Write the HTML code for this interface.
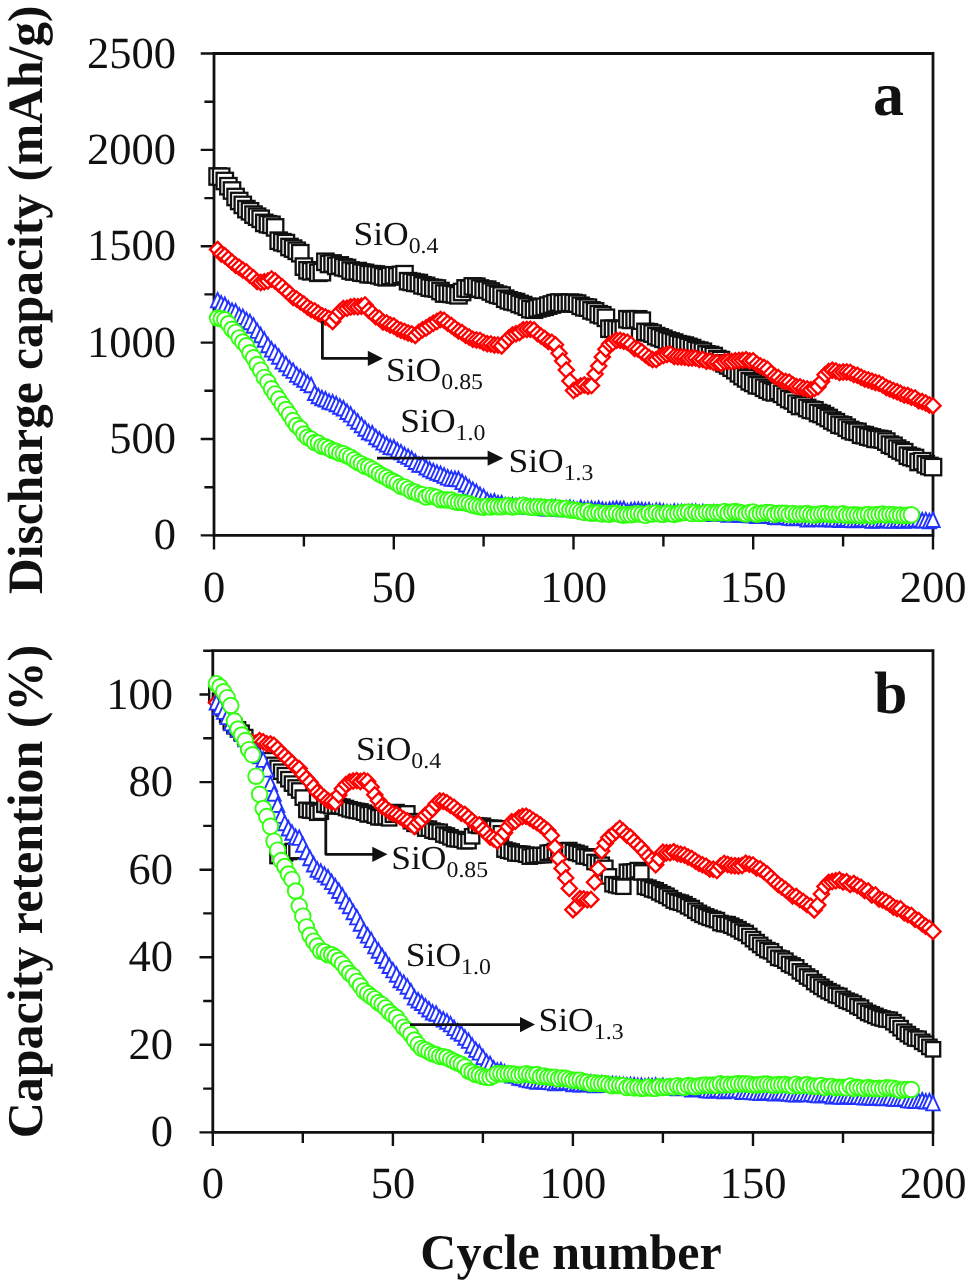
<!DOCTYPE html>
<html><head><meta charset="utf-8"><style>html,body{margin:0;padding:0;background:#fff;-webkit-font-smoothing:antialiased;}svg{display:block;filter:blur(0.6px);}</style></head>
<body><svg width="968" height="1280" viewBox="0 0 968 1280" font-family="Liberation Serif, serif" fill="#111" text-rendering="geometricPrecision">
<rect width="968" height="1280" fill="#fff"/>
<path d="M214.0 53.5H933.0V535.4H214.0Z" fill="none" stroke="#111" stroke-width="2.8"/><path d="M200.7 535.4H214.0M204.4 487.2H214.0M200.7 439.0H214.0M204.4 390.8H214.0M200.7 342.6H214.0M204.4 294.4H214.0M200.7 246.3H214.0M204.4 198.1H214.0M200.7 149.9H214.0M204.4 101.7H214.0M200.7 53.5H214.0M214.0 535.4V549.4M303.9 535.4V546.4M393.8 535.4V549.4M483.6 535.4V546.4M573.5 535.4V549.4M663.4 535.4V546.4M753.2 535.4V549.4M843.1 535.4V546.4M933.0 535.4V549.4" stroke="#111" stroke-width="2.4" fill="none"/>
<path d="M212.8 650.7H933.0V1132.4H212.8Z" fill="none" stroke="#111" stroke-width="2.8"/><path d="M199.5 1132.4H212.8M203.2 1088.6H212.8M199.5 1044.8H212.8M203.2 1001.0H212.8M199.5 957.2H212.8M203.2 913.4H212.8M199.5 869.7H212.8M203.2 825.9H212.8M199.5 782.1H212.8M203.2 738.3H212.8M199.5 694.5H212.8M203.2 650.7H212.8M212.8 1132.4V1145.9M302.8 1132.4V1142.9M392.9 1132.4V1145.9M482.9 1132.4V1142.9M572.9 1132.4V1145.9M662.9 1132.4V1142.9M753.0 1132.4V1145.9M843.0 1132.4V1142.9M933.0 1132.4V1145.9" stroke="#111" stroke-width="2.4" fill="none"/>
<g fill="#fff" stroke="#111" stroke-width="2.3"><rect x="209.4" y="168.3" width="16.4" height="16.4"/><rect x="213.0" y="168.5" width="16.4" height="16.4"/><rect x="216.6" y="172.8" width="16.4" height="16.4"/><rect x="220.2" y="178.0" width="16.4" height="16.4"/><rect x="223.8" y="182.3" width="16.4" height="16.4"/><rect x="227.4" y="188.8" width="16.4" height="16.4"/><rect x="231.0" y="192.8" width="16.4" height="16.4"/><rect x="234.6" y="196.7" width="16.4" height="16.4"/><rect x="238.2" y="200.9" width="16.4" height="16.4"/><rect x="241.8" y="203.1" width="16.4" height="16.4"/><rect x="245.3" y="206.4" width="16.4" height="16.4"/><rect x="248.9" y="208.5" width="16.4" height="16.4"/><rect x="252.5" y="210.6" width="16.4" height="16.4"/><rect x="256.1" y="214.7" width="16.4" height="16.4"/><rect x="259.7" y="216.0" width="16.4" height="16.4"/><rect x="263.3" y="216.6" width="16.4" height="16.4"/><rect x="266.9" y="219.2" width="16.4" height="16.4"/><rect x="270.5" y="232.5" width="16.4" height="16.4"/><rect x="274.1" y="234.0" width="16.4" height="16.4"/><rect x="277.7" y="234.9" width="16.4" height="16.4"/><rect x="281.3" y="238.8" width="16.4" height="16.4"/><rect x="284.9" y="240.4" width="16.4" height="16.4"/><rect x="288.5" y="242.6" width="16.4" height="16.4"/><rect x="292.1" y="245.0" width="16.4" height="16.4"/><rect x="295.7" y="258.4" width="16.4" height="16.4"/><rect x="299.3" y="262.1" width="16.4" height="16.4"/><rect x="302.9" y="263.1" width="16.4" height="16.4"/><rect x="306.5" y="262.4" width="16.4" height="16.4"/><rect x="310.1" y="264.6" width="16.4" height="16.4"/><rect x="313.7" y="264.0" width="16.4" height="16.4"/><rect x="317.2" y="253.6" width="16.4" height="16.4"/><rect x="320.8" y="255.8" width="16.4" height="16.4"/><rect x="324.4" y="255.3" width="16.4" height="16.4"/><rect x="328.0" y="257.7" width="16.4" height="16.4"/><rect x="331.6" y="257.2" width="16.4" height="16.4"/><rect x="335.2" y="259.1" width="16.4" height="16.4"/><rect x="338.8" y="259.8" width="16.4" height="16.4"/><rect x="342.4" y="262.3" width="16.4" height="16.4"/><rect x="346.0" y="263.3" width="16.4" height="16.4"/><rect x="349.6" y="262.9" width="16.4" height="16.4"/><rect x="353.2" y="264.4" width="16.4" height="16.4"/><rect x="356.8" y="264.7" width="16.4" height="16.4"/><rect x="360.4" y="266.0" width="16.4" height="16.4"/><rect x="364.0" y="266.0" width="16.4" height="16.4"/><rect x="367.6" y="266.3" width="16.4" height="16.4"/><rect x="371.2" y="267.1" width="16.4" height="16.4"/><rect x="374.8" y="268.3" width="16.4" height="16.4"/><rect x="378.4" y="269.1" width="16.4" height="16.4"/><rect x="382.0" y="267.8" width="16.4" height="16.4"/><rect x="385.6" y="267.1" width="16.4" height="16.4"/><rect x="389.1" y="268.2" width="16.4" height="16.4"/><rect x="392.7" y="266.7" width="16.4" height="16.4"/><rect x="396.3" y="266.0" width="16.4" height="16.4"/><rect x="399.9" y="273.0" width="16.4" height="16.4"/><rect x="403.5" y="273.7" width="16.4" height="16.4"/><rect x="407.1" y="274.6" width="16.4" height="16.4"/><rect x="410.7" y="274.9" width="16.4" height="16.4"/><rect x="414.3" y="277.1" width="16.4" height="16.4"/><rect x="417.9" y="277.7" width="16.4" height="16.4"/><rect x="421.5" y="279.4" width="16.4" height="16.4"/><rect x="425.1" y="279.9" width="16.4" height="16.4"/><rect x="428.7" y="280.3" width="16.4" height="16.4"/><rect x="432.3" y="282.8" width="16.4" height="16.4"/><rect x="435.9" y="285.3" width="16.4" height="16.4"/><rect x="439.5" y="285.3" width="16.4" height="16.4"/><rect x="443.1" y="285.7" width="16.4" height="16.4"/><rect x="446.7" y="286.3" width="16.4" height="16.4"/><rect x="450.3" y="287.1" width="16.4" height="16.4"/><rect x="453.9" y="283.8" width="16.4" height="16.4"/><rect x="457.4" y="280.2" width="16.4" height="16.4"/><rect x="461.0" y="280.6" width="16.4" height="16.4"/><rect x="464.6" y="278.2" width="16.4" height="16.4"/><rect x="468.2" y="278.5" width="16.4" height="16.4"/><rect x="471.8" y="280.3" width="16.4" height="16.4"/><rect x="475.4" y="281.5" width="16.4" height="16.4"/><rect x="479.0" y="281.5" width="16.4" height="16.4"/><rect x="482.6" y="283.3" width="16.4" height="16.4"/><rect x="486.2" y="285.3" width="16.4" height="16.4"/><rect x="489.8" y="286.6" width="16.4" height="16.4"/><rect x="493.4" y="287.4" width="16.4" height="16.4"/><rect x="497.0" y="290.5" width="16.4" height="16.4"/><rect x="500.6" y="292.1" width="16.4" height="16.4"/><rect x="504.2" y="293.2" width="16.4" height="16.4"/><rect x="507.8" y="293.9" width="16.4" height="16.4"/><rect x="511.4" y="295.7" width="16.4" height="16.4"/><rect x="515.0" y="296.9" width="16.4" height="16.4"/><rect x="518.6" y="298.5" width="16.4" height="16.4"/><rect x="522.2" y="300.9" width="16.4" height="16.4"/><rect x="525.8" y="301.5" width="16.4" height="16.4"/><rect x="529.3" y="300.2" width="16.4" height="16.4"/><rect x="532.9" y="299.3" width="16.4" height="16.4"/><rect x="536.5" y="298.6" width="16.4" height="16.4"/><rect x="540.1" y="297.4" width="16.4" height="16.4"/><rect x="543.7" y="296.3" width="16.4" height="16.4"/><rect x="547.3" y="295.0" width="16.4" height="16.4"/><rect x="550.9" y="294.3" width="16.4" height="16.4"/><rect x="554.5" y="295.2" width="16.4" height="16.4"/><rect x="558.1" y="294.9" width="16.4" height="16.4"/><rect x="561.7" y="294.5" width="16.4" height="16.4"/><rect x="565.3" y="294.8" width="16.4" height="16.4"/><rect x="568.9" y="295.4" width="16.4" height="16.4"/><rect x="572.5" y="297.6" width="16.4" height="16.4"/><rect x="576.1" y="299.1" width="16.4" height="16.4"/><rect x="579.7" y="299.5" width="16.4" height="16.4"/><rect x="583.3" y="302.2" width="16.4" height="16.4"/><rect x="586.9" y="303.2" width="16.4" height="16.4"/><rect x="590.5" y="306.0" width="16.4" height="16.4"/><rect x="594.1" y="307.0" width="16.4" height="16.4"/><rect x="597.7" y="309.6" width="16.4" height="16.4"/><rect x="601.2" y="320.5" width="16.4" height="16.4"/><rect x="604.8" y="320.6" width="16.4" height="16.4"/><rect x="608.4" y="321.0" width="16.4" height="16.4"/><rect x="612.0" y="321.4" width="16.4" height="16.4"/><rect x="615.6" y="321.1" width="16.4" height="16.4"/><rect x="619.2" y="311.0" width="16.4" height="16.4"/><rect x="622.8" y="311.7" width="16.4" height="16.4"/><rect x="626.4" y="311.5" width="16.4" height="16.4"/><rect x="630.0" y="311.1" width="16.4" height="16.4"/><rect x="633.6" y="312.5" width="16.4" height="16.4"/><rect x="637.2" y="323.7" width="16.4" height="16.4"/><rect x="640.8" y="324.1" width="16.4" height="16.4"/><rect x="644.4" y="325.4" width="16.4" height="16.4"/><rect x="648.0" y="327.9" width="16.4" height="16.4"/><rect x="651.6" y="329.2" width="16.4" height="16.4"/><rect x="655.2" y="330.6" width="16.4" height="16.4"/><rect x="658.8" y="332.3" width="16.4" height="16.4"/><rect x="662.4" y="333.3" width="16.4" height="16.4"/><rect x="666.0" y="334.4" width="16.4" height="16.4"/><rect x="669.6" y="336.0" width="16.4" height="16.4"/><rect x="673.1" y="336.7" width="16.4" height="16.4"/><rect x="676.7" y="337.4" width="16.4" height="16.4"/><rect x="680.3" y="338.7" width="16.4" height="16.4"/><rect x="683.9" y="339.9" width="16.4" height="16.4"/><rect x="687.5" y="341.8" width="16.4" height="16.4"/><rect x="691.1" y="342.5" width="16.4" height="16.4"/><rect x="694.7" y="343.6" width="16.4" height="16.4"/><rect x="698.3" y="346.2" width="16.4" height="16.4"/><rect x="701.9" y="346.8" width="16.4" height="16.4"/><rect x="705.5" y="347.9" width="16.4" height="16.4"/><rect x="709.1" y="350.8" width="16.4" height="16.4"/><rect x="712.7" y="351.9" width="16.4" height="16.4"/><rect x="716.3" y="355.2" width="16.4" height="16.4"/><rect x="719.9" y="357.2" width="16.4" height="16.4"/><rect x="723.5" y="359.5" width="16.4" height="16.4"/><rect x="727.1" y="362.0" width="16.4" height="16.4"/><rect x="730.7" y="365.1" width="16.4" height="16.4"/><rect x="734.3" y="367.9" width="16.4" height="16.4"/><rect x="737.9" y="370.2" width="16.4" height="16.4"/><rect x="741.5" y="373.1" width="16.4" height="16.4"/><rect x="745.0" y="374.7" width="16.4" height="16.4"/><rect x="748.6" y="377.0" width="16.4" height="16.4"/><rect x="752.2" y="377.3" width="16.4" height="16.4"/><rect x="755.8" y="379.6" width="16.4" height="16.4"/><rect x="759.4" y="381.5" width="16.4" height="16.4"/><rect x="763.0" y="383.2" width="16.4" height="16.4"/><rect x="766.6" y="384.2" width="16.4" height="16.4"/><rect x="770.2" y="382.7" width="16.4" height="16.4"/><rect x="773.8" y="385.7" width="16.4" height="16.4"/><rect x="777.4" y="388.4" width="16.4" height="16.4"/><rect x="781.0" y="390.8" width="16.4" height="16.4"/><rect x="784.6" y="392.2" width="16.4" height="16.4"/><rect x="788.2" y="395.5" width="16.4" height="16.4"/><rect x="791.8" y="397.8" width="16.4" height="16.4"/><rect x="795.4" y="397.2" width="16.4" height="16.4"/><rect x="799.0" y="399.8" width="16.4" height="16.4"/><rect x="802.6" y="401.6" width="16.4" height="16.4"/><rect x="806.2" y="402.1" width="16.4" height="16.4"/><rect x="809.8" y="404.8" width="16.4" height="16.4"/><rect x="813.4" y="405.8" width="16.4" height="16.4"/><rect x="816.9" y="407.9" width="16.4" height="16.4"/><rect x="820.5" y="409.8" width="16.4" height="16.4"/><rect x="824.1" y="412.3" width="16.4" height="16.4"/><rect x="827.7" y="414.0" width="16.4" height="16.4"/><rect x="831.3" y="416.5" width="16.4" height="16.4"/><rect x="834.9" y="417.2" width="16.4" height="16.4"/><rect x="838.5" y="419.5" width="16.4" height="16.4"/><rect x="842.1" y="421.8" width="16.4" height="16.4"/><rect x="845.7" y="423.2" width="16.4" height="16.4"/><rect x="849.3" y="423.7" width="16.4" height="16.4"/><rect x="852.9" y="426.5" width="16.4" height="16.4"/><rect x="856.5" y="427.0" width="16.4" height="16.4"/><rect x="860.1" y="428.4" width="16.4" height="16.4"/><rect x="863.7" y="429.2" width="16.4" height="16.4"/><rect x="867.3" y="430.6" width="16.4" height="16.4"/><rect x="870.9" y="430.8" width="16.4" height="16.4"/><rect x="874.5" y="431.4" width="16.4" height="16.4"/><rect x="878.1" y="433.4" width="16.4" height="16.4"/><rect x="881.7" y="436.4" width="16.4" height="16.4"/><rect x="885.3" y="437.6" width="16.4" height="16.4"/><rect x="888.9" y="440.4" width="16.4" height="16.4"/><rect x="892.4" y="442.3" width="16.4" height="16.4"/><rect x="896.0" y="444.0" width="16.4" height="16.4"/><rect x="899.6" y="447.5" width="16.4" height="16.4"/><rect x="903.2" y="448.8" width="16.4" height="16.4"/><rect x="906.8" y="449.8" width="16.4" height="16.4"/><rect x="910.4" y="453.8" width="16.4" height="16.4"/><rect x="914.0" y="453.0" width="16.4" height="16.4"/><rect x="917.6" y="456.1" width="16.4" height="16.4"/><rect x="921.2" y="457.8" width="16.4" height="16.4"/><rect x="924.8" y="458.9" width="16.4" height="16.4"/></g><g fill="#fff" stroke="#ff0000" stroke-width="2.3" stroke-linejoin="miter"><path d="M217.6 241.9L225.2 249.5L217.6 257.1L210.0 249.5Z"/><path d="M221.2 246.5L228.8 254.1L221.2 261.7L213.6 254.1Z"/><path d="M224.8 248.1L232.4 255.7L224.8 263.3L217.2 255.7Z"/><path d="M228.4 251.2L236.0 258.8L228.4 266.4L220.8 258.8Z"/><path d="M232.0 254.5L239.6 262.1L232.0 269.7L224.4 262.1Z"/><path d="M235.6 257.6L243.2 265.2L235.6 272.8L228.0 265.2Z"/><path d="M239.2 259.7L246.8 267.3L239.2 274.9L231.6 267.3Z"/><path d="M242.8 262.4L250.4 270.0L242.8 277.6L235.2 270.0Z"/><path d="M246.4 264.3L254.0 271.9L246.4 279.5L238.8 271.9Z"/><path d="M249.9 267.7L257.6 275.3L249.9 282.9L242.3 275.3Z"/><path d="M253.5 270.2L261.1 277.8L253.5 285.4L245.9 277.8Z"/><path d="M257.1 273.9L264.7 281.5L257.1 289.1L249.5 281.5Z"/><path d="M260.7 274.8L268.3 282.4L260.7 290.0L253.1 282.4Z"/><path d="M264.3 274.2L271.9 281.8L264.3 289.4L256.7 281.8Z"/><path d="M267.9 273.4L275.5 281.0L267.9 288.6L260.3 281.0Z"/><path d="M271.5 271.3L279.1 278.9L271.5 286.5L263.9 278.9Z"/><path d="M275.1 273.4L282.7 281.0L275.1 288.6L267.5 281.0Z"/><path d="M278.7 276.5L286.3 284.1L278.7 291.7L271.1 284.1Z"/><path d="M282.3 279.3L289.9 286.9L282.3 294.5L274.7 286.9Z"/><path d="M285.9 282.9L293.5 290.5L285.9 298.1L278.3 290.5Z"/><path d="M289.5 285.9L297.1 293.5L289.5 301.1L281.9 293.5Z"/><path d="M293.1 289.9L300.7 297.5L293.1 305.1L285.5 297.5Z"/><path d="M296.7 291.5L304.3 299.1L296.7 306.7L289.1 299.1Z"/><path d="M300.3 294.2L307.9 301.8L300.3 309.4L292.7 301.8Z"/><path d="M303.9 296.5L311.5 304.1L303.9 311.7L296.3 304.1Z"/><path d="M307.5 299.5L315.1 307.1L307.5 314.7L299.9 307.1Z"/><path d="M311.1 302.0L318.7 309.6L311.1 317.2L303.5 309.6Z"/><path d="M314.7 303.3L322.3 310.9L314.7 318.5L307.1 310.9Z"/><path d="M318.3 305.7L325.9 313.3L318.3 320.9L310.7 313.3Z"/><path d="M321.9 308.0L329.5 315.6L321.9 323.2L314.2 315.6Z"/><path d="M325.4 309.3L333.0 316.9L325.4 324.5L317.8 316.9Z"/><path d="M329.0 311.0L336.6 318.6L329.0 326.2L321.4 318.6Z"/><path d="M332.6 313.8L340.2 321.4L332.6 329.0L325.0 321.4Z"/><path d="M336.2 308.6L343.8 316.2L336.2 323.8L328.6 316.2Z"/><path d="M339.8 304.1L347.4 311.7L339.8 319.3L332.2 311.7Z"/><path d="M343.4 301.0L351.0 308.6L343.4 316.2L335.8 308.6Z"/><path d="M347.0 300.6L354.6 308.2L347.0 315.8L339.4 308.2Z"/><path d="M350.6 299.3L358.2 306.9L350.6 314.5L343.0 306.9Z"/><path d="M354.2 298.9L361.8 306.5L354.2 314.1L346.6 306.5Z"/><path d="M357.8 299.1L365.4 306.7L357.8 314.3L350.2 306.7Z"/><path d="M361.4 298.6L369.0 306.2L361.4 313.8L353.8 306.2Z"/><path d="M365.0 297.3L372.6 304.9L365.0 312.5L357.4 304.9Z"/><path d="M368.6 302.6L376.2 310.2L368.6 317.8L361.0 310.2Z"/><path d="M372.2 305.3L379.8 312.9L372.2 320.5L364.6 312.9Z"/><path d="M375.8 309.2L383.4 316.8L375.8 324.4L368.2 316.8Z"/><path d="M379.4 310.8L387.0 318.4L379.4 326.0L371.8 318.4Z"/><path d="M383.0 314.5L390.6 322.1L383.0 329.7L375.4 322.1Z"/><path d="M386.6 315.3L394.2 322.9L386.6 330.5L379.0 322.9Z"/><path d="M390.2 317.4L397.8 325.0L390.2 332.6L382.6 325.0Z"/><path d="M393.8 318.4L401.4 326.0L393.8 333.6L386.1 326.0Z"/><path d="M397.3 321.0L404.9 328.6L397.3 336.2L389.7 328.6Z"/><path d="M400.9 322.6L408.5 330.2L400.9 337.8L393.3 330.2Z"/><path d="M404.5 323.8L412.1 331.4L404.5 339.0L396.9 331.4Z"/><path d="M408.1 325.4L415.7 333.0L408.1 340.6L400.5 333.0Z"/><path d="M411.7 326.3L419.3 333.9L411.7 341.5L404.1 333.9Z"/><path d="M415.3 327.8L422.9 335.4L415.3 343.0L407.7 335.4Z"/><path d="M418.9 324.7L426.5 332.3L418.9 339.9L411.3 332.3Z"/><path d="M422.5 322.1L430.1 329.7L422.5 337.3L414.9 329.7Z"/><path d="M426.1 320.3L433.7 327.9L426.1 335.5L418.5 327.9Z"/><path d="M429.7 318.0L437.3 325.6L429.7 333.2L422.1 325.6Z"/><path d="M433.3 315.7L440.9 323.3L433.3 330.9L425.7 323.3Z"/><path d="M436.9 313.9L444.5 321.5L436.9 329.1L429.3 321.5Z"/><path d="M440.5 311.9L448.1 319.5L440.5 327.1L432.9 319.5Z"/><path d="M444.1 312.7L451.7 320.3L444.1 327.9L436.5 320.3Z"/><path d="M447.7 315.6L455.3 323.2L447.7 330.8L440.1 323.2Z"/><path d="M451.3 317.9L458.9 325.5L451.3 333.1L443.7 325.5Z"/><path d="M454.9 320.7L462.5 328.3L454.9 335.9L447.3 328.3Z"/><path d="M458.5 323.4L466.1 331.0L458.5 338.6L450.9 331.0Z"/><path d="M462.1 325.0L469.7 332.6L462.1 340.2L454.5 332.6Z"/><path d="M465.6 327.7L473.2 335.3L465.6 342.9L458.0 335.3Z"/><path d="M469.2 329.5L476.8 337.1L469.2 344.7L461.6 337.1Z"/><path d="M472.8 331.7L480.4 339.3L472.8 346.9L465.2 339.3Z"/><path d="M476.4 332.3L484.0 339.9L476.4 347.5L468.8 339.9Z"/><path d="M480.0 332.8L487.6 340.4L480.0 348.0L472.4 340.4Z"/><path d="M483.6 334.8L491.2 342.4L483.6 350.0L476.0 342.4Z"/><path d="M487.2 336.1L494.8 343.7L487.2 351.3L479.6 343.7Z"/><path d="M490.8 336.3L498.4 343.9L490.8 351.5L483.2 343.9Z"/><path d="M494.4 337.4L502.0 345.0L494.4 352.6L486.8 345.0Z"/><path d="M498.0 337.5L505.6 345.1L498.0 352.7L490.4 345.1Z"/><path d="M501.6 338.4L509.2 346.0L501.6 353.6L494.0 346.0Z"/><path d="M505.2 334.4L512.8 342.0L505.2 349.6L497.6 342.0Z"/><path d="M508.8 330.4L516.4 338.0L508.8 345.6L501.2 338.0Z"/><path d="M512.4 327.4L520.0 335.0L512.4 342.6L504.8 335.0Z"/><path d="M516.0 326.2L523.6 333.8L516.0 341.4L508.4 333.8Z"/><path d="M519.6 324.8L527.2 332.4L519.6 340.0L512.0 332.4Z"/><path d="M523.2 322.2L530.8 329.8L523.2 337.4L515.6 329.8Z"/><path d="M526.8 321.8L534.4 329.4L526.8 337.0L519.2 329.4Z"/><path d="M530.4 321.7L538.0 329.3L530.4 336.9L522.8 329.3Z"/><path d="M534.0 322.4L541.6 330.0L534.0 337.6L526.4 330.0Z"/><path d="M537.5 325.9L545.1 333.5L537.5 341.1L529.9 333.5Z"/><path d="M541.1 328.5L548.7 336.1L541.1 343.7L533.5 336.1Z"/><path d="M544.7 330.9L552.3 338.5L544.7 346.1L537.1 338.5Z"/><path d="M548.3 333.9L555.9 341.5L548.3 349.1L540.7 341.5Z"/><path d="M551.9 334.7L559.5 342.3L551.9 349.9L544.3 342.3Z"/><path d="M555.5 337.2L563.1 344.8L555.5 352.4L547.9 344.8Z"/><path d="M559.1 345.6L566.7 353.2L559.1 360.8L551.5 353.2Z"/><path d="M562.7 353.5L570.3 361.1L562.7 368.7L555.1 361.1Z"/><path d="M566.3 362.4L573.9 370.0L566.3 377.6L558.7 370.0Z"/><path d="M569.9 373.4L577.5 381.0L569.9 388.6L562.3 381.0Z"/><path d="M573.5 383.0L581.1 390.6L573.5 398.2L565.9 390.6Z"/><path d="M577.1 380.6L584.7 388.2L577.1 395.8L569.5 388.2Z"/><path d="M580.7 378.3L588.3 385.9L580.7 393.5L573.1 385.9Z"/><path d="M584.3 377.4L591.9 385.0L584.3 392.6L576.7 385.0Z"/><path d="M587.9 378.6L595.5 386.2L587.9 393.8L580.3 386.2Z"/><path d="M591.5 378.0L599.1 385.6L591.5 393.2L583.9 385.6Z"/><path d="M595.1 366.4L602.7 374.0L595.1 381.6L587.5 374.0Z"/><path d="M598.7 358.4L606.3 366.0L598.7 373.6L591.1 366.0Z"/><path d="M602.3 349.3L609.9 356.9L602.3 364.5L594.7 356.9Z"/><path d="M605.9 341.7L613.5 349.3L605.9 356.9L598.3 349.3Z"/><path d="M609.5 336.6L617.1 344.2L609.5 351.8L601.9 344.2Z"/><path d="M613.0 335.0L620.6 342.6L613.0 350.2L605.4 342.6Z"/><path d="M616.6 332.7L624.2 340.3L616.6 347.9L609.0 340.3Z"/><path d="M620.2 332.7L627.8 340.3L620.2 347.9L612.6 340.3Z"/><path d="M623.8 333.7L631.4 341.3L623.8 348.9L616.2 341.3Z"/><path d="M627.4 334.6L635.0 342.2L627.4 349.8L619.8 342.2Z"/><path d="M631.0 336.8L638.6 344.4L631.0 352.0L623.4 344.4Z"/><path d="M634.6 340.8L642.2 348.4L634.6 356.0L627.0 348.4Z"/><path d="M638.2 341.7L645.8 349.3L638.2 356.9L630.6 349.3Z"/><path d="M641.8 344.1L649.4 351.7L641.8 359.3L634.2 351.7Z"/><path d="M645.4 347.2L653.0 354.8L645.4 362.4L637.8 354.8Z"/><path d="M649.0 349.8L656.6 357.4L649.0 365.0L641.4 357.4Z"/><path d="M652.6 352.0L660.2 359.6L652.6 367.2L645.0 359.6Z"/><path d="M656.2 351.9L663.8 359.5L656.2 367.1L648.6 359.5Z"/><path d="M659.8 349.3L667.4 356.9L659.8 364.5L652.2 356.9Z"/><path d="M663.4 347.8L671.0 355.4L663.4 363.0L655.8 355.4Z"/><path d="M667.0 346.8L674.6 354.4L667.0 362.0L659.4 354.4Z"/><path d="M670.6 346.5L678.2 354.1L670.6 361.7L663.0 354.1Z"/><path d="M674.2 348.8L681.8 356.4L674.2 364.0L666.6 356.4Z"/><path d="M677.8 349.2L685.4 356.8L677.8 364.4L670.2 356.8Z"/><path d="M681.4 349.3L689.0 356.9L681.4 364.5L673.8 356.9Z"/><path d="M684.9 349.7L692.5 357.3L684.9 364.9L677.3 357.3Z"/><path d="M688.5 350.5L696.1 358.1L688.5 365.7L680.9 358.1Z"/><path d="M692.1 350.4L699.7 358.0L692.1 365.6L684.5 358.0Z"/><path d="M695.7 350.5L703.3 358.1L695.7 365.7L688.1 358.1Z"/><path d="M699.3 352.0L706.9 359.6L699.3 367.2L691.7 359.6Z"/><path d="M702.9 351.8L710.5 359.4L702.9 367.0L695.3 359.4Z"/><path d="M706.5 353.6L714.1 361.2L706.5 368.8L698.9 361.2Z"/><path d="M710.1 353.3L717.7 360.9L710.1 368.5L702.5 360.9Z"/><path d="M713.7 354.9L721.3 362.5L713.7 370.1L706.1 362.5Z"/><path d="M717.3 354.9L724.9 362.5L717.3 370.1L709.7 362.5Z"/><path d="M720.9 355.9L728.5 363.5L720.9 371.1L713.3 363.5Z"/><path d="M724.5 354.1L732.1 361.7L724.5 369.3L716.9 361.7Z"/><path d="M728.1 353.7L735.7 361.3L728.1 368.9L720.5 361.3Z"/><path d="M731.7 354.0L739.3 361.6L731.7 369.2L724.1 361.6Z"/><path d="M735.3 353.2L742.9 360.8L735.3 368.4L727.7 360.8Z"/><path d="M738.9 352.8L746.5 360.4L738.9 368.0L731.3 360.4Z"/><path d="M742.5 352.7L750.1 360.3L742.5 367.9L734.9 360.3Z"/><path d="M746.1 352.1L753.7 359.7L746.1 367.3L738.5 359.7Z"/><path d="M749.7 353.3L757.3 360.9L749.7 368.5L742.1 360.9Z"/><path d="M753.2 353.2L760.9 360.8L753.2 368.4L745.6 360.8Z"/><path d="M756.8 356.3L764.4 363.9L756.8 371.5L749.2 363.9Z"/><path d="M760.4 358.3L768.0 365.9L760.4 373.5L752.8 365.9Z"/><path d="M764.0 359.8L771.6 367.4L764.0 375.0L756.4 367.4Z"/><path d="M767.6 361.7L775.2 369.3L767.6 376.9L760.0 369.3Z"/><path d="M771.2 365.7L778.8 373.3L771.2 380.9L763.6 373.3Z"/><path d="M774.8 368.6L782.4 376.2L774.8 383.8L767.2 376.2Z"/><path d="M778.4 370.0L786.0 377.6L778.4 385.2L770.8 377.6Z"/><path d="M782.0 373.0L789.6 380.6L782.0 388.2L774.4 380.6Z"/><path d="M785.6 373.9L793.2 381.5L785.6 389.1L778.0 381.5Z"/><path d="M789.2 374.6L796.8 382.2L789.2 389.8L781.6 382.2Z"/><path d="M792.8 377.1L800.4 384.7L792.8 392.3L785.2 384.7Z"/><path d="M796.4 379.0L804.0 386.6L796.4 394.2L788.8 386.6Z"/><path d="M800.0 379.2L807.6 386.8L800.0 394.4L792.4 386.8Z"/><path d="M803.6 380.7L811.2 388.3L803.6 395.9L796.0 388.3Z"/><path d="M807.2 381.3L814.8 388.9L807.2 396.5L799.6 388.9Z"/><path d="M810.8 382.1L818.4 389.7L810.8 397.3L803.2 389.7Z"/><path d="M814.4 380.8L822.0 388.4L814.4 396.0L806.8 388.4Z"/><path d="M818.0 379.2L825.6 386.8L818.0 394.4L810.4 386.8Z"/><path d="M821.6 373.9L829.2 381.5L821.6 389.1L814.0 381.5Z"/><path d="M825.1 367.2L832.8 374.8L825.1 382.4L817.5 374.8Z"/><path d="M828.7 364.0L836.3 371.6L828.7 379.2L821.1 371.6Z"/><path d="M832.3 362.6L839.9 370.2L832.3 377.8L824.7 370.2Z"/><path d="M835.9 363.5L843.5 371.1L835.9 378.7L828.3 371.1Z"/><path d="M839.5 364.8L847.1 372.4L839.5 380.0L831.9 372.4Z"/><path d="M843.1 364.3L850.7 371.9L843.1 379.5L835.5 371.9Z"/><path d="M846.7 364.3L854.3 371.9L846.7 379.5L839.1 371.9Z"/><path d="M850.3 364.8L857.9 372.4L850.3 380.0L842.7 372.4Z"/><path d="M853.9 367.0L861.5 374.6L853.9 382.2L846.3 374.6Z"/><path d="M857.5 367.7L865.1 375.3L857.5 382.9L849.9 375.3Z"/><path d="M861.1 369.6L868.7 377.2L861.1 384.8L853.5 377.2Z"/><path d="M864.7 371.3L872.3 378.9L864.7 386.5L857.1 378.9Z"/><path d="M868.3 372.3L875.9 379.9L868.3 387.5L860.7 379.9Z"/><path d="M871.9 373.6L879.5 381.2L871.9 388.8L864.3 381.2Z"/><path d="M875.5 374.8L883.1 382.4L875.5 390.0L867.9 382.4Z"/><path d="M879.1 375.7L886.7 383.3L879.1 390.9L871.5 383.3Z"/><path d="M882.7 377.5L890.3 385.1L882.7 392.7L875.1 385.1Z"/><path d="M886.3 379.9L893.9 387.5L886.3 395.1L878.7 387.5Z"/><path d="M889.9 381.3L897.5 388.9L889.9 396.5L882.3 388.9Z"/><path d="M893.5 383.0L901.1 390.6L893.5 398.2L885.9 390.6Z"/><path d="M897.1 384.1L904.7 391.7L897.1 399.3L889.5 391.7Z"/><path d="M900.6 385.7L908.2 393.3L900.6 400.9L893.0 393.3Z"/><path d="M904.2 387.5L911.8 395.1L904.2 402.7L896.6 395.1Z"/><path d="M907.8 387.9L915.4 395.5L907.8 403.1L900.2 395.5Z"/><path d="M911.4 389.7L919.0 397.3L911.4 404.9L903.8 397.3Z"/><path d="M915.0 390.3L922.6 397.9L915.0 405.5L907.4 397.9Z"/><path d="M918.6 393.2L926.2 400.8L918.6 408.4L911.0 400.8Z"/><path d="M922.2 394.0L929.8 401.6L922.2 409.2L914.6 401.6Z"/><path d="M925.8 395.5L933.4 403.1L925.8 410.7L918.2 403.1Z"/><path d="M929.4 397.3L937.0 404.9L929.4 412.5L921.8 404.9Z"/><path d="M933.0 398.2L940.6 405.8L933.0 413.4L925.4 405.8Z"/></g><g fill="#fff" stroke="#2233ff" stroke-width="1.9"><path d="M217.6 292.9L224.3 307.4L210.9 307.4Z"/><path d="M221.2 296.1L227.9 310.6L214.5 310.6Z"/><path d="M224.8 297.5L231.5 312.0L218.1 312.0Z"/><path d="M228.4 301.3L235.1 315.8L221.7 315.8Z"/><path d="M232.0 303.4L238.7 317.9L225.3 317.9Z"/><path d="M235.6 304.2L242.3 318.7L228.9 318.7Z"/><path d="M239.2 308.2L245.9 322.7L232.5 322.7Z"/><path d="M242.8 309.4L249.5 323.9L236.1 323.9Z"/><path d="M246.4 312.7L253.1 327.2L239.7 327.2Z"/><path d="M249.9 314.7L256.6 329.2L243.2 329.2Z"/><path d="M253.5 318.2L260.2 332.7L246.8 332.7Z"/><path d="M257.1 323.4L263.8 337.9L250.4 337.9Z"/><path d="M260.7 327.8L267.4 342.3L254.0 342.3Z"/><path d="M264.3 332.3L271.0 346.8L257.6 346.8Z"/><path d="M267.9 337.7L274.6 352.2L261.2 352.2Z"/><path d="M271.5 342.1L278.2 356.6L264.8 356.6Z"/><path d="M275.1 345.2L281.8 359.7L268.4 359.7Z"/><path d="M278.7 349.2L285.4 363.7L272.0 363.7Z"/><path d="M282.3 354.1L289.0 368.6L275.6 368.6Z"/><path d="M285.9 356.7L292.6 371.2L279.2 371.2Z"/><path d="M289.5 360.9L296.2 375.4L282.8 375.4Z"/><path d="M293.1 363.4L299.8 377.9L286.4 377.9Z"/><path d="M296.7 367.4L303.4 381.9L290.0 381.9Z"/><path d="M300.3 369.7L307.0 384.2L293.6 384.2Z"/><path d="M303.9 372.3L310.6 386.8L297.2 386.8Z"/><path d="M307.5 375.5L314.2 390.0L300.8 390.0Z"/><path d="M311.1 377.7L317.8 392.2L304.4 392.2Z"/><path d="M314.7 385.5L321.4 400.0L308.0 400.0Z"/><path d="M318.3 388.7L325.0 403.2L311.6 403.2Z"/><path d="M321.9 390.8L328.6 405.3L315.2 405.3Z"/><path d="M325.4 392.0L332.1 406.5L318.7 406.5Z"/><path d="M329.0 394.3L335.7 408.8L322.3 408.8Z"/><path d="M332.6 395.1L339.3 409.6L325.9 409.6Z"/><path d="M336.2 396.8L342.9 411.3L329.5 411.3Z"/><path d="M339.8 399.2L346.5 413.7L333.1 413.7Z"/><path d="M343.4 401.0L350.1 415.5L336.7 415.5Z"/><path d="M347.0 404.5L353.7 419.0L340.3 419.0Z"/><path d="M350.6 407.1L357.3 421.6L343.9 421.6Z"/><path d="M354.2 410.9L360.9 425.4L347.5 425.4Z"/><path d="M357.8 414.3L364.5 428.8L351.1 428.8Z"/><path d="M361.4 417.7L368.1 432.2L354.7 432.2Z"/><path d="M365.0 421.2L371.7 435.7L358.3 435.7Z"/><path d="M368.6 424.8L375.3 439.3L361.9 439.3Z"/><path d="M372.2 426.0L378.9 440.5L365.5 440.5Z"/><path d="M375.8 429.7L382.5 444.2L369.1 444.2Z"/><path d="M379.4 432.0L386.1 446.5L372.7 446.5Z"/><path d="M383.0 435.1L389.7 449.6L376.3 449.6Z"/><path d="M386.6 437.1L393.3 451.6L379.9 451.6Z"/><path d="M390.2 439.6L396.9 454.1L383.5 454.1Z"/><path d="M393.8 440.0L400.4 454.5L387.1 454.5Z"/><path d="M397.3 443.0L404.0 457.5L390.6 457.5Z"/><path d="M400.9 444.9L407.6 459.4L394.2 459.4Z"/><path d="M404.5 447.6L411.2 462.1L397.8 462.1Z"/><path d="M408.1 449.4L414.8 463.9L401.4 463.9Z"/><path d="M411.7 451.6L418.4 466.1L405.0 466.1Z"/><path d="M415.3 454.5L422.0 469.0L408.6 469.0Z"/><path d="M418.9 457.4L425.6 471.9L412.2 471.9Z"/><path d="M422.5 457.2L429.2 471.7L415.8 471.7Z"/><path d="M426.1 460.0L432.8 474.5L419.4 474.5Z"/><path d="M429.7 462.1L436.4 476.6L423.0 476.6Z"/><path d="M433.3 463.8L440.0 478.3L426.6 478.3Z"/><path d="M436.9 465.3L443.6 479.8L430.2 479.8Z"/><path d="M440.5 466.5L447.2 481.0L433.8 481.0Z"/><path d="M444.1 468.2L450.8 482.7L437.4 482.7Z"/><path d="M447.7 470.1L454.4 484.6L441.0 484.6Z"/><path d="M451.3 471.2L458.0 485.7L444.6 485.7Z"/><path d="M454.9 471.5L461.6 486.0L448.2 486.0Z"/><path d="M458.5 471.8L465.2 486.3L451.8 486.3Z"/><path d="M462.1 474.6L468.8 489.1L455.4 489.1Z"/><path d="M465.6 477.0L472.3 491.5L458.9 491.5Z"/><path d="M469.2 480.1L475.9 494.6L462.5 494.6Z"/><path d="M472.8 482.4L479.5 496.9L466.1 496.9Z"/><path d="M476.4 484.6L483.1 499.1L469.7 499.1Z"/><path d="M480.0 487.6L486.7 502.1L473.3 502.1Z"/><path d="M483.6 489.4L490.3 503.9L476.9 503.9Z"/><path d="M487.2 493.1L493.9 507.6L480.5 507.6Z"/><path d="M490.8 494.6L497.5 509.1L484.1 509.1Z"/><path d="M494.4 494.1L501.1 508.6L487.7 508.6Z"/><path d="M498.0 495.9L504.7 510.4L491.3 510.4Z"/><path d="M501.6 496.0L508.3 510.5L494.9 510.5Z"/><path d="M505.2 498.0L511.9 512.5L498.5 512.5Z"/><path d="M508.8 498.2L515.5 512.7L502.1 512.7Z"/><path d="M512.4 497.9L519.1 512.4L505.7 512.4Z"/><path d="M516.0 499.0L522.7 513.5L509.3 513.5Z"/><path d="M519.6 498.4L526.3 512.9L512.9 512.9Z"/><path d="M523.2 498.6L529.9 513.1L516.5 513.1Z"/><path d="M526.8 498.9L533.5 513.4L520.1 513.4Z"/><path d="M530.4 499.4L537.1 513.9L523.7 513.9Z"/><path d="M534.0 499.5L540.7 514.0L527.3 514.0Z"/><path d="M537.5 499.9L544.2 514.4L530.8 514.4Z"/><path d="M541.1 499.7L547.8 514.2L534.4 514.2Z"/><path d="M544.7 500.7L551.4 515.2L538.0 515.2Z"/><path d="M548.3 501.0L555.0 515.5L541.6 515.5Z"/><path d="M551.9 500.3L558.6 514.8L545.2 514.8Z"/><path d="M555.5 499.9L562.2 514.4L548.8 514.4Z"/><path d="M559.1 501.4L565.8 515.9L552.4 515.9Z"/><path d="M562.7 501.8L569.4 516.3L556.0 516.3Z"/><path d="M566.3 501.1L573.0 515.6L559.6 515.6Z"/><path d="M569.9 500.5L576.6 515.0L563.2 515.0Z"/><path d="M573.5 501.5L580.2 516.0L566.8 516.0Z"/><path d="M577.1 502.4L583.8 516.9L570.4 516.9Z"/><path d="M580.7 500.5L587.4 515.0L574.0 515.0Z"/><path d="M584.3 502.0L591.0 516.5L577.6 516.5Z"/><path d="M587.9 501.6L594.6 516.1L581.2 516.1Z"/><path d="M591.5 501.4L598.2 515.9L584.8 515.9Z"/><path d="M595.1 502.3L601.8 516.8L588.4 516.8Z"/><path d="M598.7 501.3L605.4 515.8L592.0 515.8Z"/><path d="M602.3 502.4L609.0 516.9L595.6 516.9Z"/><path d="M605.9 503.1L612.6 517.6L599.2 517.6Z"/><path d="M609.5 502.5L616.2 517.0L602.8 517.0Z"/><path d="M613.0 502.0L619.7 516.5L606.3 516.5Z"/><path d="M616.6 501.5L623.3 516.0L609.9 516.0Z"/><path d="M620.2 501.9L626.9 516.4L613.5 516.4Z"/><path d="M623.8 501.7L630.5 516.2L617.1 516.2Z"/><path d="M627.4 503.9L634.1 518.4L620.7 518.4Z"/><path d="M631.0 502.9L637.7 517.4L624.3 517.4Z"/><path d="M634.6 502.6L641.3 517.1L627.9 517.1Z"/><path d="M638.2 502.5L644.9 517.0L631.5 517.0Z"/><path d="M641.8 502.8L648.5 517.3L635.1 517.3Z"/><path d="M645.4 503.3L652.1 517.8L638.7 517.8Z"/><path d="M649.0 502.9L655.7 517.4L642.3 517.4Z"/><path d="M652.6 504.8L659.3 519.3L645.9 519.3Z"/><path d="M656.2 503.5L662.9 518.0L649.5 518.0Z"/><path d="M659.8 503.6L666.5 518.1L653.1 518.1Z"/><path d="M663.4 504.3L670.1 518.8L656.7 518.8Z"/><path d="M667.0 505.1L673.7 519.6L660.3 519.6Z"/><path d="M670.6 505.2L677.3 519.7L663.9 519.7Z"/><path d="M674.2 504.2L680.9 518.7L667.5 518.7Z"/><path d="M677.8 504.8L684.5 519.3L671.1 519.3Z"/><path d="M681.4 504.8L688.1 519.3L674.6 519.3Z"/><path d="M684.9 505.2L691.6 519.7L678.2 519.7Z"/><path d="M688.5 505.2L695.2 519.7L681.8 519.7Z"/><path d="M692.1 504.6L698.8 519.1L685.4 519.1Z"/><path d="M695.7 504.5L702.4 519.0L689.0 519.0Z"/><path d="M699.3 505.5L706.0 520.0L692.6 520.0Z"/><path d="M702.9 504.8L709.6 519.3L696.2 519.3Z"/><path d="M706.5 506.5L713.2 521.0L699.8 521.0Z"/><path d="M710.1 505.9L716.8 520.4L703.4 520.4Z"/><path d="M713.7 505.3L720.4 519.8L707.0 519.8Z"/><path d="M717.3 505.9L724.0 520.4L710.6 520.4Z"/><path d="M720.9 505.9L727.6 520.4L714.2 520.4Z"/><path d="M724.5 506.3L731.2 520.8L717.8 520.8Z"/><path d="M728.1 507.2L734.8 521.7L721.4 521.7Z"/><path d="M731.7 505.9L738.4 520.4L725.0 520.4Z"/><path d="M735.3 505.8L742.0 520.3L728.6 520.3Z"/><path d="M738.9 507.3L745.6 521.8L732.2 521.8Z"/><path d="M742.5 507.2L749.2 521.7L735.8 521.7Z"/><path d="M746.1 507.6L752.8 522.1L739.4 522.1Z"/><path d="M749.7 507.9L756.4 522.4L743.0 522.4Z"/><path d="M753.2 507.8L760.0 522.3L746.5 522.3Z"/><path d="M756.8 508.5L763.5 523.0L750.1 523.0Z"/><path d="M760.4 507.7L767.1 522.2L753.7 522.2Z"/><path d="M764.0 508.5L770.7 523.0L757.3 523.0Z"/><path d="M767.6 508.2L774.3 522.7L760.9 522.7Z"/><path d="M771.2 508.2L777.9 522.7L764.5 522.7Z"/><path d="M774.8 509.5L781.5 524.0L768.1 524.0Z"/><path d="M778.4 509.7L785.1 524.2L771.7 524.2Z"/><path d="M782.0 508.4L788.7 522.9L775.3 522.9Z"/><path d="M785.6 509.1L792.3 523.6L778.9 523.6Z"/><path d="M789.2 510.2L795.9 524.7L782.5 524.7Z"/><path d="M792.8 510.9L799.5 525.4L786.1 525.4Z"/><path d="M796.4 510.1L803.1 524.6L789.7 524.6Z"/><path d="M800.0 510.6L806.7 525.1L793.3 525.1Z"/><path d="M803.6 509.9L810.3 524.4L796.9 524.4Z"/><path d="M807.2 512.1L813.9 526.6L800.5 526.6Z"/><path d="M810.8 511.3L817.5 525.8L804.1 525.8Z"/><path d="M814.4 511.6L821.1 526.1L807.7 526.1Z"/><path d="M818.0 511.5L824.7 526.0L811.3 526.0Z"/><path d="M821.6 511.8L828.3 526.3L814.9 526.3Z"/><path d="M825.1 511.7L831.9 526.2L818.4 526.2Z"/><path d="M828.7 511.2L835.4 525.7L822.0 525.7Z"/><path d="M832.3 512.0L839.0 526.5L825.6 526.5Z"/><path d="M835.9 511.6L842.6 526.1L829.2 526.1Z"/><path d="M839.5 512.5L846.2 527.0L832.8 527.0Z"/><path d="M843.1 511.3L849.8 525.8L836.4 525.8Z"/><path d="M846.7 511.5L853.4 526.0L840.0 526.0Z"/><path d="M850.3 512.4L857.0 526.9L843.6 526.9Z"/><path d="M853.9 512.8L860.6 527.3L847.2 527.3Z"/><path d="M857.5 512.2L864.2 526.7L850.8 526.7Z"/><path d="M861.1 511.8L867.8 526.3L854.4 526.3Z"/><path d="M864.7 512.2L871.4 526.7L858.0 526.7Z"/><path d="M868.3 512.0L875.0 526.5L861.6 526.5Z"/><path d="M871.9 513.4L878.6 527.9L865.2 527.9Z"/><path d="M875.5 512.8L882.2 527.3L868.8 527.3Z"/><path d="M879.1 513.1L885.8 527.6L872.4 527.6Z"/><path d="M882.7 512.5L889.4 527.0L876.0 527.0Z"/><path d="M886.3 512.0L893.0 526.5L879.6 526.5Z"/><path d="M889.9 513.1L896.6 527.6L883.2 527.6Z"/><path d="M893.5 513.4L900.2 527.9L886.8 527.9Z"/><path d="M897.1 512.8L903.8 527.3L890.4 527.3Z"/><path d="M900.6 512.5L907.3 527.0L893.9 527.0Z"/><path d="M904.2 513.2L910.9 527.7L897.5 527.7Z"/><path d="M907.8 512.3L914.5 526.8L901.1 526.8Z"/><path d="M911.4 513.0L918.1 527.5L904.7 527.5Z"/><path d="M915.0 512.1L921.7 526.6L908.3 526.6Z"/><path d="M918.6 512.0L925.3 526.5L911.9 526.5Z"/><path d="M922.2 513.0L928.9 527.5L915.5 527.5Z"/><path d="M925.8 512.9L932.5 527.4L919.1 527.4Z"/><path d="M929.4 513.8L936.1 528.3L922.7 528.3Z"/><path d="M933.0 512.5L939.7 527.0L926.3 527.0Z"/></g><g fill="#fff" stroke="#33ff11" stroke-width="1.9"><circle cx="217.6" cy="318.0" r="7.8"/><circle cx="221.2" cy="318.8" r="7.8"/><circle cx="224.8" cy="319.8" r="7.8"/><circle cx="228.4" cy="323.8" r="7.8"/><circle cx="232.0" cy="329.3" r="7.8"/><circle cx="235.6" cy="332.4" r="7.8"/><circle cx="239.2" cy="337.9" r="7.8"/><circle cx="242.8" cy="342.1" r="7.8"/><circle cx="246.4" cy="345.8" r="7.8"/><circle cx="249.9" cy="352.8" r="7.8"/><circle cx="253.5" cy="357.8" r="7.8"/><circle cx="257.1" cy="364.5" r="7.8"/><circle cx="260.7" cy="370.2" r="7.8"/><circle cx="264.3" cy="377.4" r="7.8"/><circle cx="267.9" cy="382.1" r="7.8"/><circle cx="271.5" cy="388.8" r="7.8"/><circle cx="275.1" cy="393.9" r="7.8"/><circle cx="278.7" cy="399.1" r="7.8"/><circle cx="282.3" cy="404.6" r="7.8"/><circle cx="285.9" cy="409.5" r="7.8"/><circle cx="289.5" cy="414.7" r="7.8"/><circle cx="293.1" cy="420.6" r="7.8"/><circle cx="296.7" cy="425.5" r="7.8"/><circle cx="300.3" cy="428.5" r="7.8"/><circle cx="303.9" cy="434.0" r="7.8"/><circle cx="307.5" cy="437.3" r="7.8"/><circle cx="311.1" cy="439.1" r="7.8"/><circle cx="314.7" cy="442.5" r="7.8"/><circle cx="318.3" cy="443.1" r="7.8"/><circle cx="321.9" cy="446.2" r="7.8"/><circle cx="325.4" cy="446.7" r="7.8"/><circle cx="329.0" cy="448.3" r="7.8"/><circle cx="332.6" cy="450.6" r="7.8"/><circle cx="336.2" cy="451.3" r="7.8"/><circle cx="339.8" cy="453.2" r="7.8"/><circle cx="343.4" cy="453.7" r="7.8"/><circle cx="347.0" cy="455.7" r="7.8"/><circle cx="350.6" cy="457.2" r="7.8"/><circle cx="354.2" cy="459.8" r="7.8"/><circle cx="357.8" cy="462.4" r="7.8"/><circle cx="361.4" cy="463.9" r="7.8"/><circle cx="365.0" cy="466.3" r="7.8"/><circle cx="368.6" cy="467.1" r="7.8"/><circle cx="372.2" cy="469.2" r="7.8"/><circle cx="375.8" cy="471.4" r="7.8"/><circle cx="379.4" cy="474.0" r="7.8"/><circle cx="383.0" cy="475.9" r="7.8"/><circle cx="386.6" cy="477.6" r="7.8"/><circle cx="390.2" cy="480.0" r="7.8"/><circle cx="393.8" cy="481.5" r="7.8"/><circle cx="397.3" cy="483.6" r="7.8"/><circle cx="400.9" cy="486.4" r="7.8"/><circle cx="404.5" cy="486.9" r="7.8"/><circle cx="408.1" cy="488.9" r="7.8"/><circle cx="411.7" cy="491.4" r="7.8"/><circle cx="415.3" cy="492.1" r="7.8"/><circle cx="418.9" cy="494.1" r="7.8"/><circle cx="422.5" cy="494.7" r="7.8"/><circle cx="426.1" cy="497.0" r="7.8"/><circle cx="429.7" cy="495.4" r="7.8"/><circle cx="433.3" cy="496.6" r="7.8"/><circle cx="436.9" cy="497.4" r="7.8"/><circle cx="440.5" cy="499.7" r="7.8"/><circle cx="444.1" cy="499.7" r="7.8"/><circle cx="447.7" cy="500.0" r="7.8"/><circle cx="451.3" cy="500.1" r="7.8"/><circle cx="454.9" cy="501.8" r="7.8"/><circle cx="458.5" cy="502.4" r="7.8"/><circle cx="462.1" cy="502.6" r="7.8"/><circle cx="465.6" cy="502.9" r="7.8"/><circle cx="469.2" cy="503.8" r="7.8"/><circle cx="472.8" cy="505.3" r="7.8"/><circle cx="476.4" cy="506.1" r="7.8"/><circle cx="480.0" cy="506.7" r="7.8"/><circle cx="483.6" cy="507.2" r="7.8"/><circle cx="487.2" cy="506.2" r="7.8"/><circle cx="490.8" cy="507.1" r="7.8"/><circle cx="494.4" cy="506.3" r="7.8"/><circle cx="498.0" cy="506.7" r="7.8"/><circle cx="501.6" cy="506.8" r="7.8"/><circle cx="505.2" cy="506.0" r="7.8"/><circle cx="508.8" cy="505.8" r="7.8"/><circle cx="512.4" cy="507.0" r="7.8"/><circle cx="516.0" cy="506.6" r="7.8"/><circle cx="519.6" cy="506.0" r="7.8"/><circle cx="523.2" cy="505.2" r="7.8"/><circle cx="526.8" cy="506.5" r="7.8"/><circle cx="530.4" cy="507.1" r="7.8"/><circle cx="534.0" cy="507.6" r="7.8"/><circle cx="537.5" cy="506.7" r="7.8"/><circle cx="541.1" cy="507.0" r="7.8"/><circle cx="544.7" cy="507.3" r="7.8"/><circle cx="548.3" cy="508.3" r="7.8"/><circle cx="551.9" cy="507.3" r="7.8"/><circle cx="555.5" cy="508.2" r="7.8"/><circle cx="559.1" cy="507.9" r="7.8"/><circle cx="562.7" cy="509.0" r="7.8"/><circle cx="566.3" cy="508.4" r="7.8"/><circle cx="569.9" cy="510.0" r="7.8"/><circle cx="573.5" cy="510.0" r="7.8"/><circle cx="577.1" cy="510.6" r="7.8"/><circle cx="580.7" cy="511.6" r="7.8"/><circle cx="584.3" cy="512.4" r="7.8"/><circle cx="587.9" cy="511.2" r="7.8"/><circle cx="591.5" cy="513.2" r="7.8"/><circle cx="595.1" cy="513.1" r="7.8"/><circle cx="598.7" cy="512.8" r="7.8"/><circle cx="602.3" cy="514.0" r="7.8"/><circle cx="605.9" cy="513.4" r="7.8"/><circle cx="609.5" cy="514.2" r="7.8"/><circle cx="613.0" cy="513.3" r="7.8"/><circle cx="616.6" cy="513.3" r="7.8"/><circle cx="620.2" cy="514.6" r="7.8"/><circle cx="623.8" cy="515.2" r="7.8"/><circle cx="627.4" cy="514.5" r="7.8"/><circle cx="631.0" cy="514.8" r="7.8"/><circle cx="634.6" cy="514.1" r="7.8"/><circle cx="638.2" cy="513.7" r="7.8"/><circle cx="641.8" cy="514.3" r="7.8"/><circle cx="645.4" cy="515.3" r="7.8"/><circle cx="649.0" cy="513.2" r="7.8"/><circle cx="652.6" cy="513.9" r="7.8"/><circle cx="656.2" cy="512.9" r="7.8"/><circle cx="659.8" cy="514.1" r="7.8"/><circle cx="663.4" cy="514.4" r="7.8"/><circle cx="667.0" cy="513.1" r="7.8"/><circle cx="670.6" cy="513.5" r="7.8"/><circle cx="674.2" cy="514.4" r="7.8"/><circle cx="677.8" cy="513.5" r="7.8"/><circle cx="681.4" cy="512.7" r="7.8"/><circle cx="684.9" cy="512.6" r="7.8"/><circle cx="688.5" cy="512.1" r="7.8"/><circle cx="692.1" cy="513.6" r="7.8"/><circle cx="695.7" cy="512.6" r="7.8"/><circle cx="699.3" cy="513.6" r="7.8"/><circle cx="702.9" cy="513.4" r="7.8"/><circle cx="706.5" cy="512.4" r="7.8"/><circle cx="710.1" cy="512.4" r="7.8"/><circle cx="713.7" cy="513.1" r="7.8"/><circle cx="717.3" cy="512.6" r="7.8"/><circle cx="720.9" cy="512.7" r="7.8"/><circle cx="724.5" cy="511.6" r="7.8"/><circle cx="728.1" cy="513.1" r="7.8"/><circle cx="731.7" cy="512.1" r="7.8"/><circle cx="735.3" cy="511.5" r="7.8"/><circle cx="738.9" cy="512.3" r="7.8"/><circle cx="742.5" cy="513.0" r="7.8"/><circle cx="746.1" cy="514.0" r="7.8"/><circle cx="749.7" cy="512.6" r="7.8"/><circle cx="753.2" cy="512.1" r="7.8"/><circle cx="756.8" cy="514.2" r="7.8"/><circle cx="760.4" cy="513.2" r="7.8"/><circle cx="764.0" cy="513.0" r="7.8"/><circle cx="767.6" cy="512.6" r="7.8"/><circle cx="771.2" cy="512.7" r="7.8"/><circle cx="774.8" cy="514.3" r="7.8"/><circle cx="778.4" cy="513.3" r="7.8"/><circle cx="782.0" cy="513.2" r="7.8"/><circle cx="785.6" cy="513.3" r="7.8"/><circle cx="789.2" cy="514.6" r="7.8"/><circle cx="792.8" cy="513.4" r="7.8"/><circle cx="796.4" cy="514.2" r="7.8"/><circle cx="800.0" cy="514.1" r="7.8"/><circle cx="803.6" cy="514.1" r="7.8"/><circle cx="807.2" cy="513.5" r="7.8"/><circle cx="810.8" cy="514.5" r="7.8"/><circle cx="814.4" cy="515.1" r="7.8"/><circle cx="818.0" cy="514.2" r="7.8"/><circle cx="821.6" cy="513.7" r="7.8"/><circle cx="825.1" cy="513.6" r="7.8"/><circle cx="828.7" cy="514.5" r="7.8"/><circle cx="832.3" cy="514.3" r="7.8"/><circle cx="835.9" cy="514.5" r="7.8"/><circle cx="839.5" cy="514.6" r="7.8"/><circle cx="843.1" cy="513.8" r="7.8"/><circle cx="846.7" cy="515.2" r="7.8"/><circle cx="850.3" cy="514.9" r="7.8"/><circle cx="853.9" cy="514.8" r="7.8"/><circle cx="857.5" cy="515.1" r="7.8"/><circle cx="861.1" cy="515.5" r="7.8"/><circle cx="864.7" cy="515.0" r="7.8"/><circle cx="868.3" cy="514.5" r="7.8"/><circle cx="871.9" cy="515.7" r="7.8"/><circle cx="875.5" cy="514.7" r="7.8"/><circle cx="879.1" cy="514.6" r="7.8"/><circle cx="882.7" cy="514.1" r="7.8"/><circle cx="886.3" cy="515.0" r="7.8"/><circle cx="889.9" cy="514.4" r="7.8"/><circle cx="893.5" cy="514.7" r="7.8"/><circle cx="897.1" cy="515.3" r="7.8"/><circle cx="900.6" cy="515.0" r="7.8"/><circle cx="904.2" cy="515.6" r="7.8"/><circle cx="907.8" cy="515.2" r="7.8"/><circle cx="911.4" cy="514.8" r="7.8"/></g>
<g fill="#fff" stroke="#111" stroke-width="2.3"><rect x="270.3" y="848.8" width="14.4" height="14.4"/><rect x="273.8" y="847.8" width="14.4" height="14.4"/><rect x="277.8" y="846.3" width="14.4" height="14.4"/><rect x="281.8" y="844.8" width="14.4" height="14.4"/><rect x="285.8" y="843.8" width="14.4" height="14.4"/><rect x="289.3" y="843.8" width="14.4" height="14.4"/><rect x="209.2" y="688.1" width="14.4" height="14.4"/><rect x="212.8" y="693.5" width="14.4" height="14.4"/><rect x="216.4" y="701.2" width="14.4" height="14.4"/><rect x="220.0" y="707.8" width="14.4" height="14.4"/><rect x="223.6" y="714.6" width="14.4" height="14.4"/><rect x="227.2" y="719.0" width="14.4" height="14.4"/><rect x="230.8" y="722.2" width="14.4" height="14.4"/><rect x="234.4" y="725.5" width="14.4" height="14.4"/><rect x="238.0" y="729.9" width="14.4" height="14.4"/><rect x="241.6" y="736.1" width="14.4" height="14.4"/><rect x="245.2" y="737.4" width="14.4" height="14.4"/><rect x="248.8" y="738.8" width="14.4" height="14.4"/><rect x="252.4" y="740.0" width="14.4" height="14.4"/><rect x="256.0" y="741.3" width="14.4" height="14.4"/><rect x="259.6" y="747.7" width="14.4" height="14.4"/><rect x="263.2" y="753.0" width="14.4" height="14.4"/><rect x="266.8" y="757.7" width="14.4" height="14.4"/><rect x="270.4" y="760.7" width="14.4" height="14.4"/><rect x="274.0" y="764.5" width="14.4" height="14.4"/><rect x="277.6" y="768.0" width="14.4" height="14.4"/><rect x="281.2" y="772.0" width="14.4" height="14.4"/><rect x="284.8" y="776.4" width="14.4" height="14.4"/><rect x="288.4" y="780.3" width="14.4" height="14.4"/><rect x="292.0" y="783.3" width="14.4" height="14.4"/><rect x="295.6" y="790.4" width="14.4" height="14.4"/><rect x="299.2" y="802.7" width="14.4" height="14.4"/><rect x="302.8" y="803.4" width="14.4" height="14.4"/><rect x="306.4" y="803.6" width="14.4" height="14.4"/><rect x="310.0" y="805.5" width="14.4" height="14.4"/><rect x="313.6" y="804.5" width="14.4" height="14.4"/><rect x="317.2" y="797.6" width="14.4" height="14.4"/><rect x="320.8" y="798.0" width="14.4" height="14.4"/><rect x="324.4" y="799.1" width="14.4" height="14.4"/><rect x="328.0" y="799.0" width="14.4" height="14.4"/><rect x="331.6" y="798.9" width="14.4" height="14.4"/><rect x="335.2" y="799.5" width="14.4" height="14.4"/><rect x="338.8" y="800.8" width="14.4" height="14.4"/><rect x="342.4" y="802.1" width="14.4" height="14.4"/><rect x="346.0" y="803.0" width="14.4" height="14.4"/><rect x="349.6" y="803.7" width="14.4" height="14.4"/><rect x="353.2" y="804.2" width="14.4" height="14.4"/><rect x="356.8" y="805.5" width="14.4" height="14.4"/><rect x="360.4" y="807.2" width="14.4" height="14.4"/><rect x="364.0" y="806.9" width="14.4" height="14.4"/><rect x="367.6" y="808.5" width="14.4" height="14.4"/><rect x="371.2" y="810.1" width="14.4" height="14.4"/><rect x="374.8" y="810.0" width="14.4" height="14.4"/><rect x="378.4" y="809.9" width="14.4" height="14.4"/><rect x="382.0" y="811.1" width="14.4" height="14.4"/><rect x="385.7" y="807.5" width="14.4" height="14.4"/><rect x="389.3" y="804.9" width="14.4" height="14.4"/><rect x="392.9" y="806.3" width="14.4" height="14.4"/><rect x="396.5" y="807.1" width="14.4" height="14.4"/><rect x="400.1" y="806.2" width="14.4" height="14.4"/><rect x="403.7" y="814.0" width="14.4" height="14.4"/><rect x="407.3" y="816.6" width="14.4" height="14.4"/><rect x="410.9" y="816.8" width="14.4" height="14.4"/><rect x="414.5" y="818.9" width="14.4" height="14.4"/><rect x="418.1" y="821.4" width="14.4" height="14.4"/><rect x="421.7" y="821.5" width="14.4" height="14.4"/><rect x="425.3" y="823.4" width="14.4" height="14.4"/><rect x="428.9" y="824.4" width="14.4" height="14.4"/><rect x="432.5" y="824.6" width="14.4" height="14.4"/><rect x="436.1" y="827.3" width="14.4" height="14.4"/><rect x="439.7" y="828.3" width="14.4" height="14.4"/><rect x="443.3" y="830.1" width="14.4" height="14.4"/><rect x="446.9" y="831.8" width="14.4" height="14.4"/><rect x="450.5" y="832.1" width="14.4" height="14.4"/><rect x="454.1" y="832.5" width="14.4" height="14.4"/><rect x="457.7" y="834.0" width="14.4" height="14.4"/><rect x="461.3" y="833.9" width="14.4" height="14.4"/><rect x="464.9" y="829.1" width="14.4" height="14.4"/><rect x="468.5" y="818.1" width="14.4" height="14.4"/><rect x="472.1" y="818.7" width="14.4" height="14.4"/><rect x="475.7" y="818.6" width="14.4" height="14.4"/><rect x="479.3" y="820.6" width="14.4" height="14.4"/><rect x="482.9" y="820.6" width="14.4" height="14.4"/><rect x="486.5" y="820.7" width="14.4" height="14.4"/><rect x="490.1" y="821.1" width="14.4" height="14.4"/><rect x="493.7" y="826.1" width="14.4" height="14.4"/><rect x="497.3" y="842.4" width="14.4" height="14.4"/><rect x="500.9" y="843.5" width="14.4" height="14.4"/><rect x="504.5" y="844.3" width="14.4" height="14.4"/><rect x="508.1" y="846.2" width="14.4" height="14.4"/><rect x="511.7" y="846.4" width="14.4" height="14.4"/><rect x="515.3" y="846.6" width="14.4" height="14.4"/><rect x="518.9" y="847.5" width="14.4" height="14.4"/><rect x="522.5" y="849.4" width="14.4" height="14.4"/><rect x="526.1" y="848.6" width="14.4" height="14.4"/><rect x="529.7" y="848.1" width="14.4" height="14.4"/><rect x="533.3" y="847.8" width="14.4" height="14.4"/><rect x="536.9" y="847.9" width="14.4" height="14.4"/><rect x="540.5" y="845.5" width="14.4" height="14.4"/><rect x="544.1" y="845.1" width="14.4" height="14.4"/><rect x="547.7" y="843.8" width="14.4" height="14.4"/><rect x="551.3" y="844.4" width="14.4" height="14.4"/><rect x="554.9" y="843.5" width="14.4" height="14.4"/><rect x="558.5" y="843.1" width="14.4" height="14.4"/><rect x="562.1" y="842.9" width="14.4" height="14.4"/><rect x="565.7" y="844.8" width="14.4" height="14.4"/><rect x="569.3" y="845.7" width="14.4" height="14.4"/><rect x="572.9" y="846.8" width="14.4" height="14.4"/><rect x="576.5" y="849.2" width="14.4" height="14.4"/><rect x="580.1" y="849.2" width="14.4" height="14.4"/><rect x="583.7" y="850.6" width="14.4" height="14.4"/><rect x="587.3" y="854.8" width="14.4" height="14.4"/><rect x="590.9" y="855.5" width="14.4" height="14.4"/><rect x="594.5" y="857.6" width="14.4" height="14.4"/><rect x="598.1" y="860.7" width="14.4" height="14.4"/><rect x="601.7" y="869.2" width="14.4" height="14.4"/><rect x="605.3" y="877.0" width="14.4" height="14.4"/><rect x="608.9" y="878.0" width="14.4" height="14.4"/><rect x="612.5" y="878.9" width="14.4" height="14.4"/><rect x="616.1" y="879.5" width="14.4" height="14.4"/><rect x="619.7" y="864.6" width="14.4" height="14.4"/><rect x="623.3" y="864.6" width="14.4" height="14.4"/><rect x="626.9" y="864.2" width="14.4" height="14.4"/><rect x="630.5" y="862.9" width="14.4" height="14.4"/><rect x="634.1" y="865.2" width="14.4" height="14.4"/><rect x="637.7" y="879.6" width="14.4" height="14.4"/><rect x="641.3" y="880.5" width="14.4" height="14.4"/><rect x="644.9" y="882.2" width="14.4" height="14.4"/><rect x="648.5" y="883.1" width="14.4" height="14.4"/><rect x="652.1" y="885.2" width="14.4" height="14.4"/><rect x="655.7" y="887.0" width="14.4" height="14.4"/><rect x="659.3" y="888.6" width="14.4" height="14.4"/><rect x="662.9" y="890.9" width="14.4" height="14.4"/><rect x="666.5" y="893.3" width="14.4" height="14.4"/><rect x="670.1" y="894.7" width="14.4" height="14.4"/><rect x="673.7" y="895.5" width="14.4" height="14.4"/><rect x="677.3" y="897.0" width="14.4" height="14.4"/><rect x="680.9" y="899.1" width="14.4" height="14.4"/><rect x="684.5" y="900.9" width="14.4" height="14.4"/><rect x="688.1" y="903.5" width="14.4" height="14.4"/><rect x="691.7" y="905.7" width="14.4" height="14.4"/><rect x="695.3" y="907.6" width="14.4" height="14.4"/><rect x="698.9" y="909.2" width="14.4" height="14.4"/><rect x="702.5" y="910.6" width="14.4" height="14.4"/><rect x="706.1" y="911.8" width="14.4" height="14.4"/><rect x="709.7" y="912.9" width="14.4" height="14.4"/><rect x="713.3" y="915.8" width="14.4" height="14.4"/><rect x="716.9" y="916.8" width="14.4" height="14.4"/><rect x="720.5" y="917.0" width="14.4" height="14.4"/><rect x="724.1" y="918.5" width="14.4" height="14.4"/><rect x="727.7" y="920.2" width="14.4" height="14.4"/><rect x="731.3" y="922.0" width="14.4" height="14.4"/><rect x="734.9" y="924.3" width="14.4" height="14.4"/><rect x="738.5" y="925.8" width="14.4" height="14.4"/><rect x="742.1" y="928.8" width="14.4" height="14.4"/><rect x="745.8" y="931.9" width="14.4" height="14.4"/><rect x="749.4" y="934.9" width="14.4" height="14.4"/><rect x="753.0" y="937.7" width="14.4" height="14.4"/><rect x="756.6" y="940.6" width="14.4" height="14.4"/><rect x="760.2" y="942.9" width="14.4" height="14.4"/><rect x="763.8" y="944.1" width="14.4" height="14.4"/><rect x="767.4" y="947.3" width="14.4" height="14.4"/><rect x="771.0" y="950.6" width="14.4" height="14.4"/><rect x="774.6" y="951.4" width="14.4" height="14.4"/><rect x="778.2" y="953.5" width="14.4" height="14.4"/><rect x="781.8" y="956.7" width="14.4" height="14.4"/><rect x="785.4" y="958.3" width="14.4" height="14.4"/><rect x="789.0" y="960.2" width="14.4" height="14.4"/><rect x="792.6" y="964.1" width="14.4" height="14.4"/><rect x="796.2" y="966.3" width="14.4" height="14.4"/><rect x="799.8" y="969.3" width="14.4" height="14.4"/><rect x="803.4" y="971.3" width="14.4" height="14.4"/><rect x="807.0" y="974.8" width="14.4" height="14.4"/><rect x="810.6" y="977.2" width="14.4" height="14.4"/><rect x="814.2" y="979.6" width="14.4" height="14.4"/><rect x="817.8" y="981.9" width="14.4" height="14.4"/><rect x="821.4" y="984.0" width="14.4" height="14.4"/><rect x="825.0" y="985.6" width="14.4" height="14.4"/><rect x="828.6" y="987.9" width="14.4" height="14.4"/><rect x="832.2" y="988.7" width="14.4" height="14.4"/><rect x="835.8" y="991.6" width="14.4" height="14.4"/><rect x="839.4" y="993.5" width="14.4" height="14.4"/><rect x="843.0" y="994.7" width="14.4" height="14.4"/><rect x="846.6" y="996.4" width="14.4" height="14.4"/><rect x="850.2" y="999.0" width="14.4" height="14.4"/><rect x="853.8" y="1000.5" width="14.4" height="14.4"/><rect x="857.4" y="1003.6" width="14.4" height="14.4"/><rect x="861.0" y="1005.7" width="14.4" height="14.4"/><rect x="864.6" y="1007.1" width="14.4" height="14.4"/><rect x="868.2" y="1008.7" width="14.4" height="14.4"/><rect x="871.8" y="1010.3" width="14.4" height="14.4"/><rect x="875.4" y="1011.3" width="14.4" height="14.4"/><rect x="879.0" y="1012.3" width="14.4" height="14.4"/><rect x="882.6" y="1012.6" width="14.4" height="14.4"/><rect x="886.2" y="1015.0" width="14.4" height="14.4"/><rect x="889.8" y="1017.7" width="14.4" height="14.4"/><rect x="893.4" y="1021.0" width="14.4" height="14.4"/><rect x="897.0" y="1024.5" width="14.4" height="14.4"/><rect x="900.6" y="1026.9" width="14.4" height="14.4"/><rect x="904.2" y="1029.3" width="14.4" height="14.4"/><rect x="907.8" y="1031.3" width="14.4" height="14.4"/><rect x="911.4" y="1031.6" width="14.4" height="14.4"/><rect x="915.0" y="1034.6" width="14.4" height="14.4"/><rect x="918.6" y="1036.6" width="14.4" height="14.4"/><rect x="922.2" y="1039.7" width="14.4" height="14.4"/><rect x="925.8" y="1042.1" width="14.4" height="14.4"/></g><g fill="#fff" stroke="#ff0000" stroke-width="2.3" stroke-linejoin="miter"><path d="M216.4 695.0L224.0 702.6L216.4 710.2L208.8 702.6Z"/><path d="M220.0 700.2L227.6 707.8L220.0 715.4L212.4 707.8Z"/><path d="M223.6 705.2L231.2 712.8L223.6 720.4L216.0 712.8Z"/><path d="M227.2 709.4L234.8 717.0L227.2 724.6L219.6 717.0Z"/><path d="M230.8 714.0L238.4 721.6L230.8 729.2L223.2 721.6Z"/><path d="M234.4 718.0L242.0 725.6L234.4 733.2L226.8 725.6Z"/><path d="M238.0 722.9L245.6 730.5L238.0 738.1L230.4 730.5Z"/><path d="M241.6 725.9L249.2 733.5L241.6 741.1L234.0 733.5Z"/><path d="M245.2 731.1L252.8 738.7L245.2 746.3L237.6 738.7Z"/><path d="M248.8 734.5L256.4 742.1L248.8 749.7L241.2 742.1Z"/><path d="M252.4 734.9L260.0 742.5L252.4 750.1L244.8 742.5Z"/><path d="M256.0 735.3L263.6 742.9L256.0 750.5L248.4 742.9Z"/><path d="M259.6 733.0L267.2 740.6L259.6 748.2L252.0 740.6Z"/><path d="M263.2 734.2L270.8 741.8L263.2 749.4L255.6 741.8Z"/><path d="M266.8 736.2L274.4 743.8L266.8 751.4L259.2 743.8Z"/><path d="M270.4 736.4L278.0 744.0L270.4 751.6L262.8 744.0Z"/><path d="M274.0 737.7L281.6 745.3L274.0 752.9L266.4 745.3Z"/><path d="M277.6 741.2L285.2 748.8L277.6 756.4L270.0 748.8Z"/><path d="M281.2 745.3L288.8 752.9L281.2 760.5L273.6 752.9Z"/><path d="M284.8 748.5L292.4 756.1L284.8 763.7L277.2 756.1Z"/><path d="M288.4 751.9L296.0 759.5L288.4 767.1L280.8 759.5Z"/><path d="M292.0 755.4L299.6 763.0L292.0 770.6L284.4 763.0Z"/><path d="M295.6 759.0L303.2 766.6L295.6 774.2L288.0 766.6Z"/><path d="M299.2 761.0L306.8 768.6L299.2 776.2L291.6 768.6Z"/><path d="M302.8 766.8L310.4 774.4L302.8 782.0L295.2 774.4Z"/><path d="M306.4 770.9L314.0 778.5L306.4 786.1L298.8 778.5Z"/><path d="M310.0 774.6L317.6 782.2L310.0 789.8L302.4 782.2Z"/><path d="M313.6 779.3L321.2 786.9L313.6 794.5L306.0 786.9Z"/><path d="M317.2 784.7L324.8 792.3L317.2 799.9L309.6 792.3Z"/><path d="M320.8 787.0L328.4 794.6L320.8 802.2L313.2 794.6Z"/><path d="M324.4 790.0L332.0 797.6L324.4 805.2L316.8 797.6Z"/><path d="M328.0 793.1L335.6 800.7L328.0 808.3L320.4 800.7Z"/><path d="M331.6 793.8L339.2 801.4L331.6 809.0L324.0 801.4Z"/><path d="M335.2 795.0L342.8 802.6L335.2 810.2L327.6 802.6Z"/><path d="M338.8 787.4L346.4 795.0L338.8 802.6L331.2 795.0Z"/><path d="M342.4 781.1L350.0 788.7L342.4 796.3L334.8 788.7Z"/><path d="M346.0 777.0L353.6 784.6L346.0 792.2L338.4 784.6Z"/><path d="M349.6 774.4L357.2 782.0L349.6 789.6L342.0 782.0Z"/><path d="M353.2 773.5L360.8 781.1L353.2 788.7L345.6 781.1Z"/><path d="M356.8 773.0L364.4 780.6L356.8 788.2L349.2 780.6Z"/><path d="M360.4 773.8L368.0 781.4L360.4 789.0L352.8 781.4Z"/><path d="M364.0 772.8L371.6 780.4L364.0 788.0L356.4 780.4Z"/><path d="M367.6 773.8L375.2 781.4L367.6 789.0L360.0 781.4Z"/><path d="M371.2 779.5L378.8 787.1L371.2 794.7L363.6 787.1Z"/><path d="M374.8 787.2L382.4 794.8L374.8 802.4L367.2 794.8Z"/><path d="M378.4 792.9L386.0 800.5L378.4 808.1L370.8 800.5Z"/><path d="M382.0 798.7L389.6 806.3L382.0 813.9L374.4 806.3Z"/><path d="M385.6 800.6L393.2 808.2L385.6 815.8L378.0 808.2Z"/><path d="M389.2 803.6L396.8 811.2L389.2 818.8L381.6 811.2Z"/><path d="M392.9 805.9L400.5 813.5L392.9 821.1L385.2 813.5Z"/><path d="M396.5 806.9L404.1 814.5L396.5 822.1L388.9 814.5Z"/><path d="M400.1 809.2L407.7 816.8L400.1 824.4L392.5 816.8Z"/><path d="M403.7 811.6L411.3 819.2L403.7 826.8L396.1 819.2Z"/><path d="M407.3 813.4L414.9 821.0L407.3 828.6L399.7 821.0Z"/><path d="M410.9 816.0L418.5 823.6L410.9 831.2L403.3 823.6Z"/><path d="M414.5 818.8L422.1 826.4L414.5 834.0L406.9 826.4Z"/><path d="M418.1 814.9L425.7 822.5L418.1 830.1L410.5 822.5Z"/><path d="M421.7 812.4L429.3 820.0L421.7 827.6L414.1 820.0Z"/><path d="M425.3 807.7L432.9 815.3L425.3 822.9L417.7 815.3Z"/><path d="M428.9 805.0L436.5 812.6L428.9 820.2L421.3 812.6Z"/><path d="M432.5 801.3L440.1 808.9L432.5 816.5L424.9 808.9Z"/><path d="M436.1 796.4L443.7 804.0L436.1 811.6L428.5 804.0Z"/><path d="M439.7 793.4L447.3 801.0L439.7 808.6L432.1 801.0Z"/><path d="M443.3 793.6L450.9 801.2L443.3 808.8L435.7 801.2Z"/><path d="M446.9 795.2L454.5 802.8L446.9 810.4L439.3 802.8Z"/><path d="M450.5 797.7L458.1 805.3L450.5 812.9L442.9 805.3Z"/><path d="M454.1 799.7L461.7 807.3L454.1 814.9L446.5 807.3Z"/><path d="M457.7 802.8L465.3 810.4L457.7 818.0L450.1 810.4Z"/><path d="M461.3 805.6L468.9 813.2L461.3 820.8L453.7 813.2Z"/><path d="M464.9 806.9L472.5 814.5L464.9 822.1L457.3 814.5Z"/><path d="M468.5 810.0L476.1 817.6L468.5 825.2L460.9 817.6Z"/><path d="M472.1 813.3L479.7 820.9L472.1 828.5L464.5 820.9Z"/><path d="M475.7 816.5L483.3 824.1L475.7 831.7L468.1 824.1Z"/><path d="M479.3 817.3L486.9 824.9L479.3 832.5L471.7 824.9Z"/><path d="M482.9 822.2L490.5 829.8L482.9 837.4L475.3 829.8Z"/><path d="M486.5 824.9L494.1 832.5L486.5 840.1L478.9 832.5Z"/><path d="M490.1 829.4L497.7 837.0L490.1 844.6L482.5 837.0Z"/><path d="M493.7 831.1L501.3 838.7L493.7 846.3L486.1 838.7Z"/><path d="M497.3 833.4L504.9 841.0L497.3 848.6L489.7 841.0Z"/><path d="M500.9 830.0L508.5 837.6L500.9 845.2L493.3 837.6Z"/><path d="M504.5 825.2L512.1 832.8L504.5 840.4L496.9 832.8Z"/><path d="M508.1 819.1L515.7 826.7L508.1 834.3L500.5 826.7Z"/><path d="M511.7 814.1L519.3 821.7L511.7 829.3L504.1 821.7Z"/><path d="M515.3 813.7L522.9 821.3L515.3 828.9L507.7 821.3Z"/><path d="M518.9 810.4L526.5 818.0L518.9 825.6L511.3 818.0Z"/><path d="M522.5 808.9L530.1 816.5L522.5 824.1L514.9 816.5Z"/><path d="M526.1 808.6L533.7 816.2L526.1 823.8L518.5 816.2Z"/><path d="M529.7 810.3L537.3 817.9L529.7 825.5L522.1 817.9Z"/><path d="M533.3 812.8L540.9 820.4L533.3 828.0L525.7 820.4Z"/><path d="M536.9 815.0L544.5 822.6L536.9 830.2L529.3 822.6Z"/><path d="M540.5 817.4L548.1 825.0L540.5 832.6L532.9 825.0Z"/><path d="M544.1 820.4L551.7 828.0L544.1 835.6L536.5 828.0Z"/><path d="M547.7 823.0L555.3 830.6L547.7 838.2L540.1 830.6Z"/><path d="M551.3 827.9L558.9 835.5L551.3 843.1L543.7 835.5Z"/><path d="M554.9 839.5L562.5 847.1L554.9 854.7L547.3 847.1Z"/><path d="M558.5 850.8L566.1 858.4L558.5 866.0L550.9 858.4Z"/><path d="M562.1 860.8L569.7 868.4L562.1 876.0L554.5 868.4Z"/><path d="M565.7 870.4L573.3 878.0L565.7 885.6L558.1 878.0Z"/><path d="M569.3 880.8L576.9 888.4L569.3 896.0L561.7 888.4Z"/><path d="M572.9 902.2L580.5 909.8L572.9 917.4L565.3 909.8Z"/><path d="M576.5 898.8L584.1 906.4L576.5 914.0L568.9 906.4Z"/><path d="M580.1 891.0L587.7 898.6L580.1 906.2L572.5 898.6Z"/><path d="M583.7 891.3L591.3 898.9L583.7 906.5L576.1 898.9Z"/><path d="M587.3 892.1L594.9 899.7L587.3 907.3L579.7 899.7Z"/><path d="M590.9 891.8L598.5 899.4L590.9 907.0L583.3 899.4Z"/><path d="M594.5 874.7L602.1 882.3L594.5 889.9L586.9 882.3Z"/><path d="M598.1 860.9L605.7 868.5L598.1 876.1L590.5 868.5Z"/><path d="M601.7 843.3L609.3 850.9L601.7 858.5L594.1 850.9Z"/><path d="M605.3 835.6L612.9 843.2L605.3 850.8L597.7 843.2Z"/><path d="M608.9 829.8L616.5 837.4L608.9 845.0L601.3 837.4Z"/><path d="M612.5 827.3L620.1 834.9L612.5 842.5L604.9 834.9Z"/><path d="M616.1 823.8L623.7 831.4L616.1 839.0L608.5 831.4Z"/><path d="M619.7 820.8L627.3 828.4L619.7 836.0L612.1 828.4Z"/><path d="M623.3 823.7L630.9 831.3L623.3 838.9L615.7 831.3Z"/><path d="M626.9 827.6L634.5 835.2L626.9 842.8L619.3 835.2Z"/><path d="M630.5 829.6L638.1 837.2L630.5 844.8L622.9 837.2Z"/><path d="M634.1 833.7L641.7 841.3L634.1 848.9L626.5 841.3Z"/><path d="M637.7 837.1L645.3 844.7L637.7 852.3L630.1 844.7Z"/><path d="M641.3 840.5L648.9 848.1L641.3 855.7L633.7 848.1Z"/><path d="M644.9 844.7L652.5 852.3L644.9 859.9L637.3 852.3Z"/><path d="M648.5 848.9L656.1 856.5L648.5 864.1L640.9 856.5Z"/><path d="M652.1 852.5L659.7 860.1L652.1 867.7L644.5 860.1Z"/><path d="M655.7 857.2L663.3 864.8L655.7 872.4L648.1 864.8Z"/><path d="M659.3 850.9L666.9 858.5L659.3 866.1L651.7 858.5Z"/><path d="M662.9 844.6L670.5 852.2L662.9 859.8L655.3 852.2Z"/><path d="M666.5 845.1L674.1 852.7L666.5 860.3L658.9 852.7Z"/><path d="M670.1 845.2L677.7 852.8L670.1 860.4L662.5 852.8Z"/><path d="M673.7 844.1L681.3 851.7L673.7 859.3L666.1 851.7Z"/><path d="M677.3 845.8L684.9 853.4L677.3 861.0L669.7 853.4Z"/><path d="M680.9 846.7L688.5 854.3L680.9 861.9L673.3 854.3Z"/><path d="M684.5 847.4L692.1 855.0L684.5 862.6L676.9 855.0Z"/><path d="M688.1 849.4L695.7 857.0L688.1 864.6L680.5 857.0Z"/><path d="M691.7 850.9L699.3 858.5L691.7 866.1L684.1 858.5Z"/><path d="M695.3 853.3L702.9 860.9L695.3 868.5L687.7 860.9Z"/><path d="M698.9 855.6L706.5 863.2L698.9 870.8L691.3 863.2Z"/><path d="M702.5 857.2L710.1 864.8L702.5 872.4L694.9 864.8Z"/><path d="M706.1 858.6L713.7 866.2L706.1 873.8L698.5 866.2Z"/><path d="M709.7 861.3L717.3 868.9L709.7 876.5L702.1 868.9Z"/><path d="M713.3 861.6L720.9 869.2L713.3 876.8L705.7 869.2Z"/><path d="M716.9 863.0L724.5 870.6L716.9 878.2L709.3 870.6Z"/><path d="M720.5 858.4L728.1 866.0L720.5 873.6L712.9 866.0Z"/><path d="M724.1 855.8L731.7 863.4L724.1 871.0L716.5 863.4Z"/><path d="M727.7 856.8L735.3 864.4L727.7 872.0L720.1 864.4Z"/><path d="M731.3 858.0L738.9 865.6L731.3 873.2L723.7 865.6Z"/><path d="M734.9 858.1L742.5 865.7L734.9 873.3L727.3 865.7Z"/><path d="M738.5 858.4L746.1 866.0L738.5 873.6L730.9 866.0Z"/><path d="M742.1 857.9L749.7 865.5L742.1 873.1L734.5 865.5Z"/><path d="M745.7 855.6L753.3 863.2L745.7 870.8L738.1 863.2Z"/><path d="M749.3 856.6L756.9 864.2L749.3 871.8L741.7 864.2Z"/><path d="M753.0 857.3L760.6 864.9L753.0 872.5L745.4 864.9Z"/><path d="M756.6 860.3L764.2 867.9L756.6 875.5L749.0 867.9Z"/><path d="M760.2 861.2L767.8 868.8L760.2 876.4L752.6 868.8Z"/><path d="M763.8 864.0L771.4 871.6L763.8 879.2L756.2 871.6Z"/><path d="M767.4 866.5L775.0 874.1L767.4 881.7L759.8 874.1Z"/><path d="M771.0 870.1L778.6 877.7L771.0 885.3L763.4 877.7Z"/><path d="M774.6 873.5L782.2 881.1L774.6 888.7L767.0 881.1Z"/><path d="M778.2 876.8L785.8 884.4L778.2 892.0L770.6 884.4Z"/><path d="M781.8 879.3L789.4 886.9L781.8 894.5L774.2 886.9Z"/><path d="M785.4 881.9L793.0 889.5L785.4 897.1L777.8 889.5Z"/><path d="M789.0 884.9L796.6 892.5L789.0 900.1L781.4 892.5Z"/><path d="M792.6 888.3L800.2 895.9L792.6 903.5L785.0 895.9Z"/><path d="M796.2 888.9L803.8 896.5L796.2 904.1L788.6 896.5Z"/><path d="M799.8 891.8L807.4 899.4L799.8 907.0L792.2 899.4Z"/><path d="M803.4 894.0L811.0 901.6L803.4 909.2L795.8 901.6Z"/><path d="M807.0 896.9L814.6 904.5L807.0 912.1L799.4 904.5Z"/><path d="M810.6 898.6L818.2 906.2L810.6 913.8L803.0 906.2Z"/><path d="M814.2 902.4L821.8 910.0L814.2 917.6L806.6 910.0Z"/><path d="M817.8 897.3L825.4 904.9L817.8 912.5L810.2 904.9Z"/><path d="M821.4 886.3L829.0 893.9L821.4 901.5L813.8 893.9Z"/><path d="M825.0 878.9L832.6 886.5L825.0 894.1L817.4 886.5Z"/><path d="M828.6 874.9L836.2 882.5L828.6 890.1L821.0 882.5Z"/><path d="M832.2 874.0L839.8 881.6L832.2 889.2L824.6 881.6Z"/><path d="M835.8 873.2L843.4 880.8L835.8 888.4L828.2 880.8Z"/><path d="M839.4 872.4L847.0 880.0L839.4 887.6L831.8 880.0Z"/><path d="M843.0 874.3L850.6 881.9L843.0 889.5L835.4 881.9Z"/><path d="M846.6 874.1L854.2 881.7L846.6 889.3L839.0 881.7Z"/><path d="M850.2 876.8L857.8 884.4L850.2 892.0L842.6 884.4Z"/><path d="M853.8 875.9L861.4 883.5L853.8 891.1L846.2 883.5Z"/><path d="M857.4 878.0L865.0 885.6L857.4 893.2L849.8 885.6Z"/><path d="M861.0 879.6L868.6 887.2L861.0 894.8L853.4 887.2Z"/><path d="M864.6 882.8L872.2 890.4L864.6 898.0L857.0 890.4Z"/><path d="M868.2 883.4L875.8 891.0L868.2 898.6L860.6 891.0Z"/><path d="M871.8 887.4L879.4 895.0L871.8 902.6L864.2 895.0Z"/><path d="M875.4 887.3L883.0 894.9L875.4 902.5L867.8 894.9Z"/><path d="M879.0 891.4L886.6 899.0L879.0 906.6L871.4 899.0Z"/><path d="M882.6 892.5L890.2 900.1L882.6 907.7L875.0 900.1Z"/><path d="M886.2 894.2L893.8 901.8L886.2 909.4L878.6 901.8Z"/><path d="M889.8 896.4L897.4 904.0L889.8 911.6L882.2 904.0Z"/><path d="M893.4 899.3L901.0 906.9L893.4 914.5L885.8 906.9Z"/><path d="M897.0 900.8L904.6 908.4L897.0 916.0L889.4 908.4Z"/><path d="M900.6 901.2L908.2 908.8L900.6 916.4L893.0 908.8Z"/><path d="M904.2 905.2L911.8 912.8L904.2 920.4L896.6 912.8Z"/><path d="M907.8 906.8L915.4 914.4L907.8 922.0L900.2 914.4Z"/><path d="M911.4 907.8L919.0 915.4L911.4 923.0L903.8 915.4Z"/><path d="M915.0 911.6L922.6 919.2L915.0 926.8L907.4 919.2Z"/><path d="M918.6 912.9L926.2 920.5L918.6 928.1L911.0 920.5Z"/><path d="M922.2 916.2L929.8 923.8L922.2 931.4L914.6 923.8Z"/><path d="M925.8 918.7L933.4 926.3L925.8 933.9L918.2 926.3Z"/><path d="M929.4 920.7L937.0 928.3L929.4 935.9L921.8 928.3Z"/><path d="M933.0 923.9L940.6 931.5L933.0 939.1L925.4 931.5Z"/></g><g fill="#fff" stroke="#2233ff" stroke-width="1.9"><path d="M216.4 695.1L223.1 709.6L209.7 709.6Z"/><path d="M220.0 699.8L226.7 714.3L213.3 714.3Z"/><path d="M223.6 704.4L230.3 718.9L216.9 718.9Z"/><path d="M227.2 709.6L233.9 724.1L220.5 724.1Z"/><path d="M230.8 715.9L237.5 730.4L224.1 730.4Z"/><path d="M234.4 718.8L241.1 733.3L227.7 733.3Z"/><path d="M238.0 722.1L244.7 736.6L231.3 736.6Z"/><path d="M241.6 726.6L248.3 741.1L234.9 741.1Z"/><path d="M245.2 731.8L251.9 746.3L238.5 746.3Z"/><path d="M248.8 737.7L255.5 752.2L242.1 752.2Z"/><path d="M252.4 741.3L259.1 755.8L245.7 755.8Z"/><path d="M256.0 744.8L262.7 759.3L249.3 759.3Z"/><path d="M259.6 748.8L266.3 763.3L252.9 763.3Z"/><path d="M263.2 752.4L269.9 766.9L256.5 766.9Z"/><path d="M266.8 762.1L273.5 776.6L260.1 776.6Z"/><path d="M270.4 776.5L277.1 791.0L263.7 791.0Z"/><path d="M274.0 786.3L280.7 800.8L267.3 800.8Z"/><path d="M277.6 797.5L284.3 812.0L270.9 812.0Z"/><path d="M281.2 808.4L287.9 822.9L274.5 822.9Z"/><path d="M284.8 815.7L291.5 830.2L278.1 830.2Z"/><path d="M288.4 821.0L295.1 835.5L281.7 835.5Z"/><path d="M292.0 825.3L298.7 839.8L285.3 839.8Z"/><path d="M295.6 829.6L302.3 844.1L288.9 844.1Z"/><path d="M299.2 830.4L305.9 844.9L292.5 844.9Z"/><path d="M302.8 837.3L309.5 851.8L296.1 851.8Z"/><path d="M306.4 844.8L313.1 859.3L299.7 859.3Z"/><path d="M310.0 850.8L316.7 865.3L303.3 865.3Z"/><path d="M313.6 857.0L320.3 871.5L306.9 871.5Z"/><path d="M317.2 862.2L323.9 876.7L310.5 876.7Z"/><path d="M320.8 864.3L327.5 878.8L314.1 878.8Z"/><path d="M324.4 867.2L331.1 881.7L317.7 881.7Z"/><path d="M328.0 870.0L334.7 884.5L321.3 884.5Z"/><path d="M331.6 874.6L338.3 889.1L324.9 889.1Z"/><path d="M335.2 878.8L341.9 893.3L328.5 893.3Z"/><path d="M338.8 883.5L345.5 898.0L332.1 898.0Z"/><path d="M342.4 888.3L349.1 902.8L335.7 902.8Z"/><path d="M346.0 894.1L352.7 908.6L339.3 908.6Z"/><path d="M349.6 898.7L356.3 913.2L342.9 913.2Z"/><path d="M353.2 904.7L359.9 919.2L346.5 919.2Z"/><path d="M356.8 909.9L363.5 924.4L350.1 924.4Z"/><path d="M360.4 916.3L367.1 930.8L353.7 930.8Z"/><path d="M364.0 923.3L370.7 937.8L357.3 937.8Z"/><path d="M367.6 928.1L374.3 942.6L360.9 942.6Z"/><path d="M371.2 932.6L377.9 947.1L364.5 947.1Z"/><path d="M374.8 938.9L381.5 953.4L368.1 953.4Z"/><path d="M378.4 943.3L385.1 957.8L371.7 957.8Z"/><path d="M382.0 948.5L388.7 963.0L375.3 963.0Z"/><path d="M385.6 953.3L392.3 967.8L378.9 967.8Z"/><path d="M389.2 958.5L395.9 973.0L382.5 973.0Z"/><path d="M392.9 962.9L399.6 977.4L386.2 977.4Z"/><path d="M396.5 967.3L403.2 981.8L389.8 981.8Z"/><path d="M400.1 972.8L406.8 987.3L393.4 987.3Z"/><path d="M403.7 975.4L410.4 989.9L397.0 989.9Z"/><path d="M407.3 979.2L414.0 993.7L400.6 993.7Z"/><path d="M410.9 983.9L417.6 998.4L404.2 998.4Z"/><path d="M414.5 990.1L421.2 1004.6L407.8 1004.6Z"/><path d="M418.1 993.0L424.8 1007.5L411.4 1007.5Z"/><path d="M421.7 995.5L428.4 1010.0L415.0 1010.0Z"/><path d="M425.3 998.9L432.0 1013.4L418.6 1013.4Z"/><path d="M428.9 1002.0L435.6 1016.5L422.2 1016.5Z"/><path d="M432.5 1005.0L439.2 1019.5L425.8 1019.5Z"/><path d="M436.1 1006.2L442.8 1020.7L429.4 1020.7Z"/><path d="M439.7 1010.4L446.4 1024.9L433.0 1024.9Z"/><path d="M443.3 1012.1L450.0 1026.6L436.6 1026.6Z"/><path d="M446.9 1014.2L453.6 1028.7L440.2 1028.7Z"/><path d="M450.5 1016.9L457.2 1031.4L443.8 1031.4Z"/><path d="M454.1 1020.6L460.8 1035.1L447.4 1035.1Z"/><path d="M457.7 1024.1L464.4 1038.6L451.0 1038.6Z"/><path d="M461.3 1026.2L468.0 1040.7L454.6 1040.7Z"/><path d="M464.9 1030.2L471.6 1044.7L458.2 1044.7Z"/><path d="M468.5 1033.4L475.2 1047.9L461.8 1047.9Z"/><path d="M472.1 1038.2L478.8 1052.7L465.4 1052.7Z"/><path d="M475.7 1042.4L482.4 1056.9L469.0 1056.9Z"/><path d="M479.3 1045.1L486.0 1059.6L472.6 1059.6Z"/><path d="M482.9 1049.7L489.6 1064.2L476.2 1064.2Z"/><path d="M486.5 1054.5L493.2 1069.0L479.8 1069.0Z"/><path d="M490.1 1056.7L496.8 1071.2L483.4 1071.2Z"/><path d="M493.7 1061.2L500.4 1075.7L487.0 1075.7Z"/><path d="M497.3 1063.2L504.0 1077.7L490.6 1077.7Z"/><path d="M500.9 1063.0L507.6 1077.5L494.2 1077.5Z"/><path d="M504.5 1065.0L511.2 1079.5L497.8 1079.5Z"/><path d="M508.1 1066.4L514.8 1080.9L501.4 1080.9Z"/><path d="M511.7 1068.1L518.4 1082.6L505.0 1082.6Z"/><path d="M515.3 1068.0L522.0 1082.5L508.6 1082.5Z"/><path d="M518.9 1070.3L525.6 1084.8L512.2 1084.8Z"/><path d="M522.5 1070.7L529.2 1085.2L515.8 1085.2Z"/><path d="M526.1 1072.1L532.8 1086.6L519.4 1086.6Z"/><path d="M529.7 1072.9L536.4 1087.4L523.0 1087.4Z"/><path d="M533.3 1073.3L540.0 1087.8L526.6 1087.8Z"/><path d="M536.9 1074.2L543.6 1088.7L530.2 1088.7Z"/><path d="M540.5 1073.7L547.2 1088.2L533.8 1088.2Z"/><path d="M544.1 1074.0L550.8 1088.5L537.4 1088.5Z"/><path d="M547.7 1074.4L554.4 1088.9L541.0 1088.9Z"/><path d="M551.3 1074.9L558.0 1089.4L544.6 1089.4Z"/><path d="M554.9 1075.8L561.6 1090.3L548.2 1090.3Z"/><path d="M558.5 1074.2L565.2 1088.7L551.8 1088.7Z"/><path d="M562.1 1075.2L568.8 1089.7L555.4 1089.7Z"/><path d="M565.7 1074.8L572.4 1089.3L559.0 1089.3Z"/><path d="M569.3 1074.7L576.0 1089.2L562.6 1089.2Z"/><path d="M572.9 1076.7L579.6 1091.2L566.2 1091.2Z"/><path d="M576.5 1076.0L583.2 1090.5L569.8 1090.5Z"/><path d="M580.1 1077.0L586.8 1091.5L573.4 1091.5Z"/><path d="M583.7 1076.9L590.4 1091.4L577.0 1091.4Z"/><path d="M587.3 1075.7L594.0 1090.2L580.6 1090.2Z"/><path d="M590.9 1075.3L597.6 1089.8L584.2 1089.8Z"/><path d="M594.5 1077.7L601.2 1092.2L587.8 1092.2Z"/><path d="M598.1 1076.4L604.8 1090.9L591.4 1090.9Z"/><path d="M601.7 1076.1L608.4 1090.6L595.0 1090.6Z"/><path d="M605.3 1077.3L612.0 1091.8L598.6 1091.8Z"/><path d="M608.9 1077.1L615.6 1091.6L602.2 1091.6Z"/><path d="M612.5 1076.8L619.2 1091.3L605.8 1091.3Z"/><path d="M616.1 1077.1L622.8 1091.6L609.4 1091.6Z"/><path d="M619.7 1077.6L626.4 1092.1L613.0 1092.1Z"/><path d="M623.3 1077.7L630.0 1092.2L616.6 1092.2Z"/><path d="M626.9 1078.2L633.6 1092.7L620.2 1092.7Z"/><path d="M630.5 1077.7L637.2 1092.2L623.8 1092.2Z"/><path d="M634.1 1077.9L640.8 1092.4L627.4 1092.4Z"/><path d="M637.7 1078.6L644.4 1093.1L631.0 1093.1Z"/><path d="M641.3 1078.5L648.0 1093.0L634.6 1093.0Z"/><path d="M644.9 1079.2L651.6 1093.7L638.2 1093.7Z"/><path d="M648.5 1078.5L655.2 1093.0L641.8 1093.0Z"/><path d="M652.1 1078.8L658.8 1093.3L645.4 1093.3Z"/><path d="M655.7 1078.3L662.4 1092.8L649.0 1092.8Z"/><path d="M659.3 1080.2L666.0 1094.7L652.6 1094.7Z"/><path d="M662.9 1078.6L669.6 1093.1L656.2 1093.1Z"/><path d="M666.5 1079.8L673.2 1094.3L659.8 1094.3Z"/><path d="M670.1 1079.4L676.8 1093.9L663.4 1093.9Z"/><path d="M673.7 1080.3L680.4 1094.8L667.0 1094.8Z"/><path d="M677.3 1080.8L684.0 1095.3L670.6 1095.3Z"/><path d="M680.9 1079.6L687.6 1094.1L674.2 1094.1Z"/><path d="M684.5 1080.6L691.2 1095.1L677.8 1095.1Z"/><path d="M688.1 1079.9L694.8 1094.4L681.4 1094.4Z"/><path d="M691.7 1082.0L698.4 1096.5L685.0 1096.5Z"/><path d="M695.3 1081.2L702.0 1095.7L688.6 1095.7Z"/><path d="M698.9 1080.7L705.6 1095.2L692.2 1095.2Z"/><path d="M702.5 1081.4L709.2 1095.9L695.8 1095.9Z"/><path d="M706.1 1082.8L712.8 1097.3L699.4 1097.3Z"/><path d="M709.7 1083.1L716.4 1097.6L703.0 1097.6Z"/><path d="M713.3 1083.1L720.0 1097.6L706.6 1097.6Z"/><path d="M716.9 1082.1L723.6 1096.6L710.2 1096.6Z"/><path d="M720.5 1082.6L727.2 1097.1L713.8 1097.1Z"/><path d="M724.1 1083.9L730.8 1098.4L717.4 1098.4Z"/><path d="M727.7 1082.6L734.4 1097.1L721.0 1097.1Z"/><path d="M731.3 1083.1L738.0 1097.6L724.6 1097.6Z"/><path d="M734.9 1082.9L741.6 1097.4L728.2 1097.4Z"/><path d="M738.5 1082.9L745.2 1097.4L731.8 1097.4Z"/><path d="M742.1 1084.5L748.8 1099.0L735.4 1099.0Z"/><path d="M745.7 1084.4L752.4 1098.9L739.0 1098.9Z"/><path d="M749.3 1084.4L756.0 1098.9L742.6 1098.9Z"/><path d="M753.0 1084.7L759.7 1099.2L746.2 1099.2Z"/><path d="M756.6 1085.1L763.3 1099.6L749.9 1099.6Z"/><path d="M760.2 1085.6L766.9 1100.1L753.5 1100.1Z"/><path d="M763.8 1084.9L770.5 1099.4L757.1 1099.4Z"/><path d="M767.4 1084.9L774.1 1099.4L760.7 1099.4Z"/><path d="M771.0 1084.6L777.7 1099.1L764.3 1099.1Z"/><path d="M774.6 1086.1L781.3 1100.6L767.9 1100.6Z"/><path d="M778.2 1085.3L784.9 1099.8L771.5 1099.8Z"/><path d="M781.8 1084.9L788.5 1099.4L775.1 1099.4Z"/><path d="M785.4 1085.8L792.1 1100.3L778.7 1100.3Z"/><path d="M789.0 1086.2L795.7 1100.7L782.3 1100.7Z"/><path d="M792.6 1086.8L799.3 1101.3L785.9 1101.3Z"/><path d="M796.2 1087.1L802.9 1101.6L789.5 1101.6Z"/><path d="M799.8 1086.2L806.5 1100.7L793.1 1100.7Z"/><path d="M803.4 1086.4L810.1 1100.9L796.7 1100.9Z"/><path d="M807.0 1086.9L813.7 1101.4L800.3 1101.4Z"/><path d="M810.6 1086.5L817.3 1101.0L803.9 1101.0Z"/><path d="M814.2 1087.3L820.9 1101.8L807.5 1101.8Z"/><path d="M817.8 1087.9L824.5 1102.4L811.1 1102.4Z"/><path d="M821.4 1087.8L828.1 1102.3L814.7 1102.3Z"/><path d="M825.0 1087.0L831.7 1101.5L818.3 1101.5Z"/><path d="M828.6 1087.4L835.3 1101.9L821.9 1101.9Z"/><path d="M832.2 1089.1L838.9 1103.6L825.5 1103.6Z"/><path d="M835.8 1087.9L842.5 1102.4L829.1 1102.4Z"/><path d="M839.4 1089.1L846.1 1103.6L832.7 1103.6Z"/><path d="M843.0 1089.2L849.7 1103.7L836.3 1103.7Z"/><path d="M846.6 1088.8L853.3 1103.3L839.9 1103.3Z"/><path d="M850.2 1088.6L856.9 1103.1L843.5 1103.1Z"/><path d="M853.8 1089.5L860.5 1104.0L847.1 1104.0Z"/><path d="M857.4 1089.0L864.1 1103.5L850.7 1103.5Z"/><path d="M861.0 1089.6L867.7 1104.1L854.3 1104.1Z"/><path d="M864.6 1090.0L871.3 1104.5L857.9 1104.5Z"/><path d="M868.2 1089.7L874.9 1104.2L861.5 1104.2Z"/><path d="M871.8 1090.2L878.5 1104.7L865.1 1104.7Z"/><path d="M875.4 1090.3L882.1 1104.8L868.7 1104.8Z"/><path d="M879.0 1089.9L885.7 1104.4L872.3 1104.4Z"/><path d="M882.6 1090.7L889.3 1105.2L875.9 1105.2Z"/><path d="M886.2 1090.6L892.9 1105.1L879.5 1105.1Z"/><path d="M889.8 1090.1L896.5 1104.6L883.1 1104.6Z"/><path d="M893.4 1091.2L900.1 1105.7L886.7 1105.7Z"/><path d="M897.0 1091.4L903.7 1105.9L890.3 1105.9Z"/><path d="M900.6 1091.4L907.3 1105.9L893.9 1105.9Z"/><path d="M904.2 1090.9L910.9 1105.4L897.5 1105.4Z"/><path d="M907.8 1092.9L914.5 1107.4L901.1 1107.4Z"/><path d="M911.4 1093.1L918.1 1107.6L904.7 1107.6Z"/><path d="M915.0 1093.5L921.7 1108.0L908.3 1108.0Z"/><path d="M918.6 1093.6L925.3 1108.1L911.9 1108.1Z"/><path d="M922.2 1093.0L928.9 1107.5L915.5 1107.5Z"/><path d="M925.8 1094.1L932.5 1108.6L919.1 1108.6Z"/><path d="M929.4 1093.8L936.1 1108.3L922.7 1108.3Z"/><path d="M933.0 1095.9L939.7 1110.4L926.3 1110.4Z"/></g><g fill="#fff" stroke="#33ff11" stroke-width="1.9"><circle cx="216.4" cy="683.7" r="7.8"/><circle cx="220.0" cy="686.8" r="7.8"/><circle cx="223.6" cy="691.8" r="7.8"/><circle cx="227.2" cy="697.7" r="7.8"/><circle cx="230.8" cy="705.5" r="7.8"/><circle cx="234.4" cy="721.1" r="7.8"/><circle cx="238.0" cy="729.0" r="7.8"/><circle cx="241.6" cy="735.0" r="7.8"/><circle cx="245.2" cy="740.6" r="7.8"/><circle cx="248.8" cy="749.7" r="7.8"/><circle cx="252.4" cy="754.8" r="7.8"/><circle cx="256.0" cy="776.2" r="7.8"/><circle cx="259.6" cy="794.3" r="7.8"/><circle cx="263.2" cy="808.5" r="7.8"/><circle cx="266.8" cy="816.6" r="7.8"/><circle cx="270.4" cy="826.3" r="7.8"/><circle cx="274.0" cy="841.2" r="7.8"/><circle cx="277.6" cy="850.2" r="7.8"/><circle cx="281.2" cy="860.6" r="7.8"/><circle cx="284.8" cy="866.5" r="7.8"/><circle cx="288.4" cy="874.0" r="7.8"/><circle cx="292.0" cy="879.4" r="7.8"/><circle cx="295.6" cy="891.0" r="7.8"/><circle cx="299.2" cy="906.1" r="7.8"/><circle cx="302.8" cy="916.2" r="7.8"/><circle cx="306.4" cy="926.9" r="7.8"/><circle cx="310.0" cy="935.3" r="7.8"/><circle cx="313.6" cy="941.2" r="7.8"/><circle cx="317.2" cy="946.1" r="7.8"/><circle cx="320.8" cy="951.2" r="7.8"/><circle cx="324.4" cy="951.7" r="7.8"/><circle cx="328.0" cy="954.7" r="7.8"/><circle cx="331.6" cy="954.8" r="7.8"/><circle cx="335.2" cy="957.0" r="7.8"/><circle cx="338.8" cy="960.3" r="7.8"/><circle cx="342.4" cy="963.9" r="7.8"/><circle cx="346.0" cy="968.7" r="7.8"/><circle cx="349.6" cy="973.3" r="7.8"/><circle cx="353.2" cy="976.1" r="7.8"/><circle cx="356.8" cy="981.4" r="7.8"/><circle cx="360.4" cy="986.0" r="7.8"/><circle cx="364.0" cy="991.1" r="7.8"/><circle cx="367.6" cy="993.7" r="7.8"/><circle cx="371.2" cy="996.6" r="7.8"/><circle cx="374.8" cy="998.9" r="7.8"/><circle cx="378.4" cy="1002.5" r="7.8"/><circle cx="382.0" cy="1004.7" r="7.8"/><circle cx="385.6" cy="1007.9" r="7.8"/><circle cx="389.2" cy="1012.0" r="7.8"/><circle cx="392.9" cy="1015.1" r="7.8"/><circle cx="396.5" cy="1017.5" r="7.8"/><circle cx="400.1" cy="1022.4" r="7.8"/><circle cx="403.7" cy="1027.2" r="7.8"/><circle cx="407.3" cy="1030.3" r="7.8"/><circle cx="410.9" cy="1034.7" r="7.8"/><circle cx="414.5" cy="1040.0" r="7.8"/><circle cx="418.1" cy="1044.6" r="7.8"/><circle cx="421.7" cy="1048.4" r="7.8"/><circle cx="425.3" cy="1049.8" r="7.8"/><circle cx="428.9" cy="1051.7" r="7.8"/><circle cx="432.5" cy="1053.8" r="7.8"/><circle cx="436.1" cy="1054.6" r="7.8"/><circle cx="439.7" cy="1056.4" r="7.8"/><circle cx="443.3" cy="1056.7" r="7.8"/><circle cx="446.9" cy="1057.5" r="7.8"/><circle cx="450.5" cy="1059.6" r="7.8"/><circle cx="454.1" cy="1061.3" r="7.8"/><circle cx="457.7" cy="1063.0" r="7.8"/><circle cx="461.3" cy="1064.3" r="7.8"/><circle cx="464.9" cy="1066.8" r="7.8"/><circle cx="468.5" cy="1071.0" r="7.8"/><circle cx="472.1" cy="1072.3" r="7.8"/><circle cx="475.7" cy="1074.5" r="7.8"/><circle cx="479.3" cy="1075.1" r="7.8"/><circle cx="482.9" cy="1076.5" r="7.8"/><circle cx="486.5" cy="1077.3" r="7.8"/><circle cx="490.1" cy="1077.4" r="7.8"/><circle cx="493.7" cy="1075.6" r="7.8"/><circle cx="497.3" cy="1073.6" r="7.8"/><circle cx="500.9" cy="1073.7" r="7.8"/><circle cx="504.5" cy="1074.1" r="7.8"/><circle cx="508.1" cy="1073.7" r="7.8"/><circle cx="511.7" cy="1073.8" r="7.8"/><circle cx="515.3" cy="1074.4" r="7.8"/><circle cx="518.9" cy="1075.1" r="7.8"/><circle cx="522.5" cy="1074.4" r="7.8"/><circle cx="526.1" cy="1073.7" r="7.8"/><circle cx="529.7" cy="1074.5" r="7.8"/><circle cx="533.3" cy="1075.2" r="7.8"/><circle cx="536.9" cy="1074.6" r="7.8"/><circle cx="540.5" cy="1076.5" r="7.8"/><circle cx="544.1" cy="1075.9" r="7.8"/><circle cx="547.7" cy="1077.0" r="7.8"/><circle cx="551.3" cy="1077.2" r="7.8"/><circle cx="554.9" cy="1077.3" r="7.8"/><circle cx="558.5" cy="1078.8" r="7.8"/><circle cx="562.1" cy="1077.9" r="7.8"/><circle cx="565.7" cy="1078.3" r="7.8"/><circle cx="569.3" cy="1079.4" r="7.8"/><circle cx="572.9" cy="1080.3" r="7.8"/><circle cx="576.5" cy="1080.3" r="7.8"/><circle cx="580.1" cy="1080.2" r="7.8"/><circle cx="583.7" cy="1081.8" r="7.8"/><circle cx="587.3" cy="1082.2" r="7.8"/><circle cx="590.9" cy="1083.6" r="7.8"/><circle cx="594.5" cy="1082.8" r="7.8"/><circle cx="598.1" cy="1083.6" r="7.8"/><circle cx="601.7" cy="1083.6" r="7.8"/><circle cx="605.3" cy="1083.5" r="7.8"/><circle cx="608.9" cy="1084.8" r="7.8"/><circle cx="612.5" cy="1085.7" r="7.8"/><circle cx="616.1" cy="1085.0" r="7.8"/><circle cx="619.7" cy="1085.6" r="7.8"/><circle cx="623.3" cy="1085.7" r="7.8"/><circle cx="626.9" cy="1087.6" r="7.8"/><circle cx="630.5" cy="1086.8" r="7.8"/><circle cx="634.1" cy="1087.9" r="7.8"/><circle cx="637.7" cy="1087.5" r="7.8"/><circle cx="641.3" cy="1088.4" r="7.8"/><circle cx="644.9" cy="1088.1" r="7.8"/><circle cx="648.5" cy="1087.1" r="7.8"/><circle cx="652.1" cy="1088.2" r="7.8"/><circle cx="655.7" cy="1088.3" r="7.8"/><circle cx="659.3" cy="1086.6" r="7.8"/><circle cx="662.9" cy="1087.5" r="7.8"/><circle cx="666.5" cy="1087.2" r="7.8"/><circle cx="670.1" cy="1086.6" r="7.8"/><circle cx="673.7" cy="1086.9" r="7.8"/><circle cx="677.3" cy="1085.7" r="7.8"/><circle cx="680.9" cy="1086.8" r="7.8"/><circle cx="684.5" cy="1087.2" r="7.8"/><circle cx="688.1" cy="1085.6" r="7.8"/><circle cx="691.7" cy="1086.1" r="7.8"/><circle cx="695.3" cy="1086.8" r="7.8"/><circle cx="698.9" cy="1085.8" r="7.8"/><circle cx="702.5" cy="1085.3" r="7.8"/><circle cx="706.1" cy="1084.9" r="7.8"/><circle cx="709.7" cy="1085.3" r="7.8"/><circle cx="713.3" cy="1085.0" r="7.8"/><circle cx="716.9" cy="1085.2" r="7.8"/><circle cx="720.5" cy="1083.8" r="7.8"/><circle cx="724.1" cy="1085.1" r="7.8"/><circle cx="727.7" cy="1084.2" r="7.8"/><circle cx="731.3" cy="1084.8" r="7.8"/><circle cx="734.9" cy="1084.0" r="7.8"/><circle cx="738.5" cy="1083.6" r="7.8"/><circle cx="742.1" cy="1084.1" r="7.8"/><circle cx="745.7" cy="1083.8" r="7.8"/><circle cx="749.3" cy="1084.2" r="7.8"/><circle cx="753.0" cy="1084.8" r="7.8"/><circle cx="756.6" cy="1085.0" r="7.8"/><circle cx="760.2" cy="1084.5" r="7.8"/><circle cx="763.8" cy="1084.1" r="7.8"/><circle cx="767.4" cy="1084.1" r="7.8"/><circle cx="771.0" cy="1084.9" r="7.8"/><circle cx="774.6" cy="1085.3" r="7.8"/><circle cx="778.2" cy="1084.6" r="7.8"/><circle cx="781.8" cy="1084.8" r="7.8"/><circle cx="785.4" cy="1084.6" r="7.8"/><circle cx="789.0" cy="1085.3" r="7.8"/><circle cx="792.6" cy="1085.8" r="7.8"/><circle cx="796.2" cy="1084.2" r="7.8"/><circle cx="799.8" cy="1085.7" r="7.8"/><circle cx="803.4" cy="1085.3" r="7.8"/><circle cx="807.0" cy="1084.5" r="7.8"/><circle cx="810.6" cy="1086.1" r="7.8"/><circle cx="814.2" cy="1085.9" r="7.8"/><circle cx="817.8" cy="1086.3" r="7.8"/><circle cx="821.4" cy="1085.4" r="7.8"/><circle cx="825.0" cy="1087.6" r="7.8"/><circle cx="828.6" cy="1086.5" r="7.8"/><circle cx="832.2" cy="1086.4" r="7.8"/><circle cx="835.8" cy="1087.7" r="7.8"/><circle cx="839.4" cy="1087.3" r="7.8"/><circle cx="843.0" cy="1087.5" r="7.8"/><circle cx="846.6" cy="1087.8" r="7.8"/><circle cx="850.2" cy="1086.1" r="7.8"/><circle cx="853.8" cy="1088.4" r="7.8"/><circle cx="857.4" cy="1087.3" r="7.8"/><circle cx="861.0" cy="1087.9" r="7.8"/><circle cx="864.6" cy="1088.4" r="7.8"/><circle cx="868.2" cy="1087.5" r="7.8"/><circle cx="871.8" cy="1088.3" r="7.8"/><circle cx="875.4" cy="1088.7" r="7.8"/><circle cx="879.0" cy="1088.3" r="7.8"/><circle cx="882.6" cy="1088.8" r="7.8"/><circle cx="886.2" cy="1087.7" r="7.8"/><circle cx="889.8" cy="1088.1" r="7.8"/><circle cx="893.4" cy="1088.2" r="7.8"/><circle cx="897.0" cy="1089.3" r="7.8"/><circle cx="900.6" cy="1090.4" r="7.8"/><circle cx="904.2" cy="1089.5" r="7.8"/><circle cx="907.8" cy="1089.4" r="7.8"/><circle cx="911.4" cy="1089.5" r="7.8"/></g>
<text x="176" y="549.4" text-anchor="end" font-size="44.5">0</text><text x="176" y="453.0" text-anchor="end" font-size="44.5">500</text><text x="176" y="356.6" text-anchor="end" font-size="44.5">1000</text><text x="176" y="260.3" text-anchor="end" font-size="44.5">1500</text><text x="176" y="163.9" text-anchor="end" font-size="44.5">2000</text><text x="176" y="67.5" text-anchor="end" font-size="44.5">2500</text><text x="214.0" y="602" text-anchor="middle" font-size="44.5">0</text><text x="393.8" y="602" text-anchor="middle" font-size="44.5">50</text><text x="573.5" y="602" text-anchor="middle" font-size="44.5">100</text><text x="753.2" y="602" text-anchor="middle" font-size="44.5">150</text><text x="933.0" y="602" text-anchor="middle" font-size="44.5">200</text><text x="173" y="1146.4" text-anchor="end" font-size="44.5">0</text><text x="173" y="1058.8" text-anchor="end" font-size="44.5">20</text><text x="173" y="971.2" text-anchor="end" font-size="44.5">40</text><text x="173" y="883.7" text-anchor="end" font-size="44.5">60</text><text x="173" y="796.1" text-anchor="end" font-size="44.5">80</text><text x="173" y="708.5" text-anchor="end" font-size="44.5">100</text><text x="212.8" y="1198.2" text-anchor="middle" font-size="44.5">0</text><text x="392.9" y="1198.2" text-anchor="middle" font-size="44.5">50</text><text x="572.9" y="1198.2" text-anchor="middle" font-size="44.5">100</text><text x="753.0" y="1198.2" text-anchor="middle" font-size="44.5">150</text><text x="933.0" y="1198.2" text-anchor="middle" font-size="44.5">200</text><text transform="translate(41.5,594) rotate(-90)" font-size="49.5" font-weight="bold">Discharge capacity (mAh/g)</text><text transform="translate(41.5,1138.3) rotate(-90)" font-size="50" font-weight="bold">Capacity retention (%)</text><text x="571" y="1268.5" text-anchor="middle" font-size="50" font-weight="bold">Cycle number</text><text x="873" y="115" font-size="62" font-weight="bold">a</text><text x="874" y="712.8" font-size="60" font-weight="bold">b</text>
<text transform="translate(353.4,244.6) scale(1.06,1)" font-size="33.5">SiO<tspan font-size="22.5" dy="7.9">0.4</tspan></text><text transform="translate(386.0,380.6) scale(1.06,1)" font-size="33.5">SiO<tspan font-size="22.5" dy="7.9">0.85</tspan></text><text transform="translate(400.3,432.3) scale(1.06,1)" font-size="33.5">SiO<tspan font-size="22.5" dy="7.9">1.0</tspan></text><text transform="translate(508.4,471.6) scale(1.06,1)" font-size="33.5">SiO<tspan font-size="22.5" dy="7.9">1.3</tspan></text><path d="M322.4 321V358.4H369" fill="none" stroke="#111" stroke-width="2.8" stroke-linejoin="round"/><path d="M367.8 350.8L383 358.4L367.8 366Z" fill="#111"/><path d="M377 458.2H489" fill="none" stroke="#111" stroke-width="2.8"/><path d="M487.6 450.6L503.3 458.2L487.6 465.8Z" fill="#111"/><text transform="translate(356.1,759.6) scale(1.06,1)" font-size="33.5">SiO<tspan font-size="22.5" dy="7.9">0.4</tspan></text><text transform="translate(391.2,869.1) scale(1.06,1)" font-size="33.5">SiO<tspan font-size="22.5" dy="7.9">0.85</tspan></text><text transform="translate(405.8,966.3) scale(1.06,1)" font-size="33.5">SiO<tspan font-size="22.5" dy="7.9">1.0</tspan></text><text transform="translate(538.5,1030.8) scale(1.06,1)" font-size="33.5">SiO<tspan font-size="22.5" dy="7.9">1.3</tspan></text><path d="M325.8 815V854.3H373" fill="none" stroke="#111" stroke-width="2.8" stroke-linejoin="round"/><path d="M372.3 846.7L387.5 854.3L372.3 861.9Z" fill="#111"/><path d="M410 1024.6H521" fill="none" stroke="#111" stroke-width="2.8"/><path d="M520 1017L535 1024.6L520 1032.2Z" fill="#111"/>
</svg></body></html>
